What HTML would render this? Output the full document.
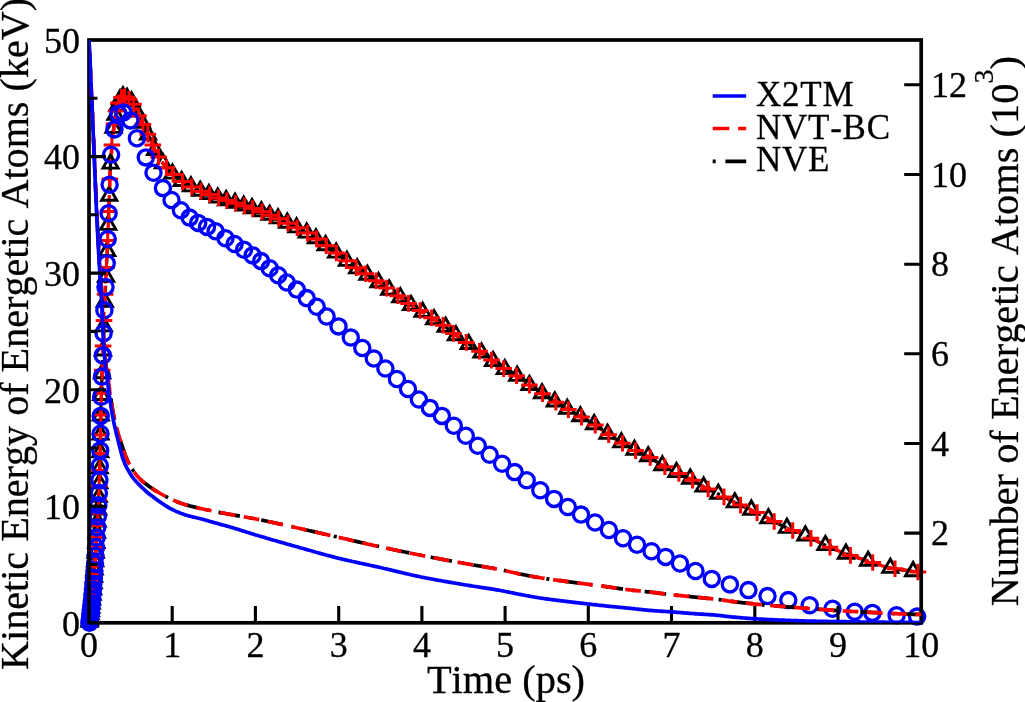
<!DOCTYPE html>
<html lang="en"><head><meta charset="utf-8"><title>Energetic atoms plot</title>
<style>html,body{margin:0;padding:0;background:#fff}svg{display:block}</style></head>
<body>
<svg width="1025" height="702" viewBox="0 0 1025 702">
<rect width="1025" height="702" fill="#fff"/>
<defs>
<circle id="c" r="7.60" fill="none" stroke="#0000ff" stroke-width="3.30"/>
<path id="t" d="M0 -8.78L-7.60 4.39L7.60 4.39Z" fill="none" stroke="#000" stroke-width="2.90" stroke-linejoin="miter"/>
<path id="p" d="M-8.30 0H8.30M0 -8.30V8.30" fill="none" stroke="#ff0000" stroke-width="3.00"/>
<clipPath id="clip"><rect x="89.0" y="40.0" width="832.2" height="582.8"/></clipPath>
</defs>
<g clip-path="url(#clip)" fill="none" stroke-width="3.3">
<path d="M89.5 622.8L89.6 621.8L89.7 620.8L89.9 619.9L90.0 618.9L90.1 617.9L90.2 616.9L90.3 615.9L90.4 614.9L90.5 614.0L90.6 613.0L90.8 612.0L90.9 611.0L91.0 610.0L91.1 609.1L91.2 608.1L91.3 607.1L91.4 606.1L91.5 605.1L91.6 604.1L91.7 603.2L91.8 602.2L91.9 601.2L92.0 600.2L92.1 599.2L92.2 598.2L92.3 597.3L92.3 596.3L92.4 595.3L92.5 594.3L92.6 593.3L92.7 592.3L92.8 591.4L92.9 590.4L93.0 589.4L93.0 588.4L93.1 587.4L93.2 586.4L93.3 585.4L93.4 584.5L93.5 583.5L93.5 582.5L93.6 581.5L93.7 580.5L93.8 579.5L93.8 578.6L93.9 577.6L94.0 576.6L94.1 575.6L94.2 574.6L94.2 573.6L94.3 572.6L94.4 571.7L94.5 570.7L94.5 569.7L94.6 568.7L94.7 567.7L94.7 566.7L94.8 565.7L94.9 564.8L95.0 563.8L95.0 562.8L95.1 561.8L95.2 560.8L95.2 559.8L95.3 558.8L95.4 557.9L95.4 556.9L95.5 555.9L95.6 554.9L95.6 553.9L95.7 552.9L95.8 551.9L95.8 551.0L95.9 550.0L95.9 549.0L96.0 548.0L96.1 547.0L96.1 546.0L96.2 545.0L96.3 544.1L96.3 543.1L96.4 542.1L96.4 541.1L96.5 540.1L96.6 539.1L96.6 538.1L96.7 537.2L96.7 536.2L96.8 535.2L96.8 534.2L96.9 533.2L96.9 532.2L97.0 531.2L97.1 530.2L97.1 529.3L97.2 528.3L97.2 527.3L97.3 526.3L97.3 525.3L97.4 524.3L97.4 523.3L97.5 522.4L97.5 521.4L97.6 520.4L97.6 519.4L97.7 518.4L97.7 517.4L97.8 516.4L97.8 515.4L97.9 514.5L97.9 513.5L98.0 512.5L98.0 511.5L98.1 510.5L98.1 509.5L98.2 508.5L98.2 507.6L98.3 506.6L98.3 505.6L98.4 504.6L98.4 503.6L98.5 502.6L98.5 501.6L98.5 500.6L98.6 499.7L98.6 498.7L98.7 497.7L98.7 496.7L98.8 495.7L98.8 494.7L98.8 493.7L98.9 492.7L98.9 491.8L99.0 490.8L99.0 489.8L99.0 488.8L99.1 487.8L99.1 486.8L99.2 485.8L99.2 484.9L99.2 483.9L99.3 482.9L99.3 481.9L99.3 480.9L99.4 479.9L99.4 478.9L99.4 477.9L99.5 477.0L99.5 476.0L99.5 475.0L99.6 474.0L99.6 473.0L99.6 472.0L99.7 471.0L99.7 470.0L99.7 469.1L99.8 468.1L99.8 467.1L99.8 466.1L99.9 465.1L99.9 464.1L99.9 463.1L99.9 462.1L100.0 461.1L100.0 460.2L100.0 459.2L100.1 458.2L100.1 457.2L100.1 456.2L100.1 455.2L100.2 454.2L100.2 453.2L100.2 452.3L100.2 451.3L100.2 450.3L100.3 449.3L100.3 448.3L100.3 447.3L100.3 446.3L100.3 445.3L100.3 444.4L100.3 443.4L100.4 442.4L100.4 441.4L100.4 440.4L100.4 439.4L100.4 438.4L100.4 437.4L100.4 436.5L100.5 435.5L100.5 434.5L100.5 433.5L100.5 432.5L100.5 431.5L100.5 430.5L100.6 429.5L100.6 428.6L100.6 427.6L100.6 426.6L100.6 425.6L100.6 424.6L100.6 423.6L100.6 422.6L100.7 421.6L100.7 420.6L100.7 419.7L100.7 418.7L100.7 417.7L100.7 416.7L100.8 415.7L100.8 414.7L100.8 413.7L100.8 412.7L100.8 411.8L100.8 410.8L100.9 409.8L100.9 408.8L100.9 407.8L100.9 406.8L101.0 405.8L101.0 404.8L101.0 403.9L101.1 402.9L101.1 401.9L101.1 400.9L101.1 399.9L101.2 398.9L101.2 397.9L101.2 396.9L101.3 396.0L101.3 395.0L101.3 394.0L101.4 393.0L101.4 392.0L101.4 391.0L101.5 390.0L101.5 389.0L101.5 388.1L101.6 387.1L101.6 386.1L101.6 385.1L101.7 384.1L101.7 383.1L101.7 382.1L101.8 381.1L101.8 380.2L101.9 379.2L101.9 378.2L101.9 377.2L102.0 376.2L102.0 375.2L102.0 374.2L102.1 373.2L102.1 372.3L102.2 371.3L102.2 370.3L102.2 369.3L102.3 368.3L102.3 367.3L102.3 366.3L102.4 365.3L102.4 364.4L102.5 363.4L102.5 362.4L102.5 361.4L102.6 360.4L102.6 359.4L102.7 358.4L102.7 357.4L102.7 356.5L102.8 355.5L102.8 354.5L102.9 353.5L102.9 352.5L102.9 351.5L103.0 350.5L103.0 349.5L103.0 348.6L103.1 347.6L103.1 346.6L103.2 345.6L103.2 344.6L103.2 343.6L103.3 342.6L103.3 341.7L103.3 340.7L103.4 339.7L103.4 338.7L103.4 337.7L103.5 336.7L103.5 335.7L103.5 334.7L103.6 333.8L103.6 332.8L103.6 331.8L103.7 330.8L103.7 329.8L103.7 328.8L103.8 327.8L103.8 326.8L103.8 325.9L103.9 324.9L103.9 323.9L103.9 322.9L104.0 321.9L104.0 320.9L104.1 319.9L104.1 318.9L104.1 318.0L104.2 317.0L104.2 316.0L104.2 315.0L104.3 314.0L104.3 313.0L104.4 312.0L104.4 311.0L104.4 310.1L104.5 309.1L104.5 308.1L104.5 307.1L104.6 306.1L104.6 305.1L104.7 304.1L104.7 303.1L104.8 302.2L104.8 301.2L104.8 300.2L104.9 299.2L104.9 298.2L105.0 297.2L105.0 296.2L105.1 295.2L105.1 294.3L105.2 293.3L105.2 292.3L105.2 291.3L105.3 290.3L105.3 289.3L105.4 288.3L105.4 287.4L105.5 286.4L105.5 285.4L105.6 284.4L105.6 283.4L105.7 282.4L105.7 281.4L105.8 280.4L105.8 279.5L105.9 278.5L105.9 277.5L106.0 276.5L106.0 275.5L106.1 274.5L106.1 273.5L106.2 272.5L106.2 271.6L106.3 270.6L106.3 269.6L106.4 268.6L106.4 267.6L106.5 266.6L106.5 265.6L106.6 264.7L106.6 263.7L106.7 262.7L106.7 261.7L106.8 260.7L106.8 259.7L106.9 258.7L106.9 257.7L107.0 256.8L107.0 255.8L107.1 254.8L107.1 253.8L107.2 252.8L107.2 251.8L107.3 250.8L107.3 249.9L107.3 248.9L107.4 247.9L107.4 246.9L107.5 245.9L107.5 244.9L107.5 243.9L107.6 242.9L107.6 242.0L107.6 241.0L107.7 240.0L107.7 239.0L107.8 238.0L107.8 237.0L107.8 236.0L107.9 235.0L107.9 234.1L107.9 233.1L108.0 232.1L108.0 231.1L108.1 230.1L108.1 229.1L108.1 228.1L108.2 227.1L108.2 226.2L108.2 225.2L108.3 224.2L108.3 223.2L108.3 222.2L108.4 221.2L108.4 220.2L108.4 219.2L108.5 218.3L108.5 217.3L108.5 216.3L108.6 215.3L108.6 214.3L108.6 213.3L108.7 212.3L108.7 211.3L108.7 210.4L108.8 209.4L108.8 208.4L108.8 207.4L108.9 206.4L108.9 205.4L108.9 204.4L109.0 203.4L109.0 202.5L109.0 201.5L109.1 200.5L109.1 199.5L109.1 198.5L109.2 197.5L109.2 196.5L109.3 195.5L109.3 194.6L109.3 193.6L109.4 192.6L109.4 191.6L109.4 190.6L109.5 189.6L109.5 188.6L109.5 187.6L109.6 186.7L109.6 185.7L109.7 184.7L109.7 183.7L109.7 182.7L109.8 181.7L109.8 180.7L109.8 179.7L109.9 178.8L109.9 177.8L110.0 176.8L110.0 175.8L110.0 174.8L110.1 173.8L110.1 172.8L110.2 171.8L110.2 170.9L110.2 169.9L110.3 168.9L110.3 167.9L110.4 166.9L110.4 165.9L110.5 164.9L110.5 164.0L110.6 163.0L110.6 162.0L110.7 161.0L110.7 160.0L110.8 159.0L110.9 158.0L110.9 157.1L111.0 156.1L111.1 155.1L111.1 154.1L111.2 153.1L111.3 152.1L111.3 151.1L111.4 150.2L111.5 149.2L111.6 148.2L111.7 147.2L111.8 146.2L111.9 145.2L111.9 144.2L112.0 143.3L112.1 142.3L112.2 141.3L112.3 140.3L112.4 139.3L112.5 138.3L112.6 137.4L112.7 136.4L112.8 135.4L113.0 134.4L113.1 133.4L113.2 132.5L113.3 131.5L113.4 130.5L113.5 129.5L113.6 128.5L113.8 127.5L113.9 126.6L114.0 125.6L114.1 124.6L114.3 123.6L114.4 122.6L114.5 121.7L114.7 120.7L114.8 119.7L115.0 118.7L115.1 117.7L115.3 116.8L115.5 115.8L115.7 114.8L115.8 113.9L116.0 112.9L116.2 111.9L116.4 110.9L116.6 110.0L116.8 109.0L117.1 108.0L117.3 107.0L117.6 106.1L117.9 105.1L118.2 104.2L118.5 103.3L118.8 102.4L119.2 101.5L119.7 100.5L120.2 99.4L120.8 98.4L121.4 97.5L122.1 96.9L122.8 96.5L123.5 96.6L124.4 96.8L125.4 97.2L126.4 97.6L127.3 98.1L128.2 98.6L129.0 99.2L129.8 99.8L130.5 100.5L131.2 101.2L131.9 102.0L132.5 102.7L133.0 103.5L133.4 104.4L133.9 105.2L134.3 106.1L134.7 107.0L135.1 108.0L135.4 108.9L135.8 109.9L136.2 110.8L136.5 111.7L136.9 112.6L137.4 113.5L137.8 114.4L138.2 115.3L138.7 116.2L139.1 117.1L139.5 118.0L140.0 118.9L140.4 119.7L140.9 120.6L141.3 121.5L141.8 122.4L142.2 123.3L142.7 124.1L143.1 125.0L143.6 125.9L144.0 126.8L144.4 127.7L144.9 128.6L145.3 129.4L145.8 130.3L146.2 131.2L146.7 132.1L147.1 133.0L147.6 133.8L148.0 134.7L148.5 135.6L148.9 136.5L149.3 137.4L149.8 138.3L150.2 139.2L150.6 140.0L151.1 140.9L151.5 141.8L151.9 142.7L152.3 143.7L152.7 144.6L153.0 145.5L153.4 146.4L153.8 147.3L154.2 148.2L154.6 149.1L155.0 150.1L155.4 151.0L155.8 151.9L156.2 152.7L156.6 153.6L157.1 154.5L157.6 155.3L158.1 156.2L158.6 157.0L159.1 157.9L159.6 158.7L160.2 159.5L160.7 160.4L161.3 161.2L161.9 162.0L162.5 162.8L163.1 163.6L163.7 164.4L164.3 165.1L164.9 165.9L165.6 166.6L166.2 167.4L166.8 168.1L167.5 168.8L168.2 169.6L168.9 170.3L169.6 171.0L170.3 171.7L171.0 172.4L171.7 173.1L172.5 173.7L173.2 174.4L173.9 175.0L174.7 175.7L175.4 176.3L176.2 176.9L177.0 177.6L177.7 178.2L178.5 178.8L179.3 179.4L180.1 180.0L180.9 180.6L181.7 181.1L182.5 181.7L183.4 182.2L184.2 182.7L185.0 183.3L185.9 183.8L186.7 184.3L187.6 184.7L188.5 185.2L189.3 185.7L190.2 186.1L191.1 186.6L192.0 187.0L192.9 187.5L193.8 187.9L194.6 188.3L195.5 188.8L196.4 189.2L197.3 189.6L198.2 190.0L199.1 190.4L200.0 190.8L201.0 191.2L201.9 191.5L202.8 191.9L203.7 192.3L204.6 192.6L205.6 193.0L206.5 193.3L207.4 193.6L208.3 194.0L209.3 194.3L210.2 194.7L211.1 195.0L212.0 195.4L213.0 195.7L213.9 196.1L214.8 196.5L215.7 196.8L216.6 197.2L217.6 197.5L218.5 197.9L219.4 198.2L220.3 198.5L221.3 198.9L222.2 199.1L223.2 199.4L224.1 199.7L225.1 200.0L226.0 200.2L227.0 200.5L227.9 200.8L228.9 201.1L229.8 201.4L230.8 201.7L231.7 201.9L232.6 202.2L233.6 202.5L234.5 202.8L235.5 203.1L236.4 203.4L237.4 203.7L238.3 204.0L239.2 204.3L240.2 204.6L241.1 204.9L242.1 205.2L243.0 205.5L244.0 205.8L244.9 206.1L245.9 206.4L246.8 206.7L247.7 206.9L248.7 207.2L249.6 207.5L250.6 207.8L251.5 208.1L252.5 208.4L253.4 208.7L254.3 209.0L255.3 209.3L256.2 209.6L257.2 210.0L258.1 210.3L259.0 210.6L259.9 211.0L260.9 211.3L261.8 211.7L262.7 212.1L263.6 212.4L264.5 212.8L265.4 213.2L266.4 213.5L267.3 213.9L268.2 214.3L269.1 214.6L270.0 215.0L270.9 215.4L271.8 215.8L272.8 216.2L273.7 216.6L274.6 217.0L275.5 217.4L276.4 217.7L277.3 218.1L278.2 218.5L279.1 218.9L280.0 219.3L280.9 219.8L281.8 220.2L282.7 220.6L283.6 221.0L284.5 221.4L285.4 221.9L286.2 222.3L287.1 222.7L288.0 223.2L288.9 223.6L289.8 224.1L290.6 224.6L291.5 225.0L292.4 225.5L293.3 225.9L294.2 226.3L295.1 226.8L296.0 227.2L296.8 227.6L297.7 228.1L298.6 228.5L299.5 228.9L300.4 229.4L301.3 229.8L302.1 230.3L303.0 230.7L303.9 231.2L304.8 231.7L305.6 232.1L306.5 232.6L307.4 233.1L308.2 233.6L309.1 234.1L309.9 234.6L310.8 235.1L311.6 235.6L312.5 236.1L313.3 236.7L314.1 237.2L314.9 237.7L315.7 238.3L316.6 238.9L317.4 239.4L318.2 240.0L319.0 240.6L319.8 241.1L320.6 241.7L321.4 242.3L322.2 242.9L323.0 243.4L323.8 244.0L324.6 244.6L325.4 245.1L326.3 245.7L327.1 246.3L327.9 246.8L328.7 247.4L329.5 248.0L330.3 248.6L331.1 249.1L331.9 249.7L332.7 250.3L333.5 250.9L334.3 251.4L335.1 252.0L335.9 252.6L336.7 253.2L337.5 253.8L338.3 254.4L339.1 255.0L339.8 255.6L340.6 256.2L341.4 256.8L342.2 257.4L343.0 258.0L343.7 258.6L344.5 259.2L345.3 259.8L346.1 260.4L346.9 261.0L347.7 261.6L348.5 262.2L349.3 262.8L350.1 263.4L350.9 264.0L351.6 264.5L352.4 265.1L353.2 265.7L354.0 266.3L354.8 266.9L355.7 267.4L356.5 268.0L357.3 268.6L358.1 269.1L358.9 269.6L359.8 270.2L360.6 270.7L361.4 271.2L362.3 271.7L363.1 272.2L364.0 272.8L364.8 273.3L365.7 273.8L366.5 274.3L367.3 274.9L368.2 275.4L369.0 275.9L369.8 276.5L370.6 277.0L371.5 277.6L372.3 278.1L373.1 278.7L373.9 279.2L374.7 279.8L375.6 280.3L376.4 280.9L377.2 281.4L378.0 282.0L378.8 282.5L379.6 283.1L380.5 283.7L381.3 284.2L382.1 284.8L382.9 285.4L383.7 285.9L384.5 286.5L385.3 287.1L386.1 287.6L386.9 288.2L387.7 288.8L388.5 289.3L389.3 289.9L390.2 290.5L391.0 291.0L391.8 291.6L392.6 292.1L393.4 292.7L394.2 293.2L395.1 293.8L395.9 294.4L396.7 294.9L397.5 295.5L398.3 296.0L399.1 296.6L399.9 297.2L400.8 297.7L401.6 298.3L402.4 298.9L403.2 299.5L404.0 300.1L404.7 300.6L405.5 301.2L406.3 301.8L407.1 302.4L407.9 303.0L408.7 303.6L409.5 304.1L410.4 304.7L411.2 305.2L412.0 305.8L412.9 306.3L413.7 306.8L414.5 307.3L415.4 307.8L416.3 308.3L417.1 308.8L418.0 309.3L418.8 309.8L419.7 310.3L420.5 310.8L421.4 311.3L422.2 311.8L423.1 312.3L423.9 312.8L424.7 313.3L425.6 313.9L426.4 314.4L427.2 314.9L428.1 315.5L428.9 316.0L429.7 316.5L430.6 317.1L431.4 317.6L432.2 318.2L433.0 318.7L433.9 319.2L434.7 319.8L435.5 320.3L436.4 320.9L437.2 321.4L438.0 321.9L438.9 322.5L439.7 323.0L440.5 323.5L441.4 324.1L442.2 324.6L443.0 325.2L443.8 325.7L444.6 326.3L445.4 326.9L446.2 327.5L447.0 328.1L447.8 328.7L448.5 329.3L449.3 329.9L450.0 330.6L450.8 331.2L451.5 331.9L452.3 332.5L453.1 333.1L453.8 333.8L454.6 334.4L455.4 335.0L456.2 335.6L456.9 336.2L457.7 336.7L458.6 337.3L459.4 337.9L460.2 338.4L461.0 339.0L461.8 339.5L462.6 340.1L463.5 340.6L464.3 341.2L465.1 341.7L465.9 342.3L466.8 342.8L467.6 343.4L468.4 343.9L469.2 344.5L470.1 345.0L470.9 345.6L471.7 346.1L472.5 346.7L473.3 347.2L474.2 347.7L475.0 348.3L475.8 348.8L476.6 349.4L477.5 349.9L478.3 350.5L479.1 351.0L479.9 351.6L480.7 352.2L481.5 352.7L482.3 353.3L483.1 353.9L483.9 354.5L484.7 355.0L485.5 355.6L486.3 356.2L487.1 356.8L487.9 357.4L488.7 358.0L489.5 358.6L490.3 359.2L491.1 359.8L491.9 360.3L492.7 360.9L493.5 361.5L494.3 362.1L495.1 362.6L495.9 363.2L496.7 363.8L497.5 364.4L498.3 364.9L499.1 365.5L500.0 366.1L500.8 366.6L501.6 367.2L502.4 367.7L503.2 368.2L504.1 368.8L504.9 369.3L505.8 369.8L506.6 370.3L507.5 370.7L508.4 371.2L509.2 371.7L510.1 372.1L511.0 372.6L511.9 373.0L512.8 373.5L513.6 374.0L514.5 374.4L515.4 374.9L516.2 375.4L517.0 375.9L517.9 376.5L518.7 377.0L519.5 377.6L520.3 378.2L521.1 378.7L521.9 379.3L522.7 379.9L523.4 380.5L524.2 381.1L525.0 381.8L525.8 382.4L526.6 383.0L527.4 383.6L528.2 384.1L529.0 384.7L529.8 385.3L530.6 385.9L531.4 386.4L532.2 387.0L533.0 387.5L533.9 388.1L534.7 388.6L535.5 389.2L536.3 389.7L537.2 390.3L538.0 390.8L538.8 391.3L539.6 391.9L540.5 392.4L541.3 392.9L542.1 393.5L543.0 394.0L543.8 394.6L544.6 395.1L545.4 395.6L546.3 396.2L547.1 396.7L547.9 397.3L548.8 397.8L549.6 398.3L550.4 398.9L551.3 399.4L552.1 399.9L552.9 400.4L553.8 401.0L554.6 401.5L555.5 402.0L556.3 402.5L557.1 403.0L558.0 403.5L558.8 404.0L559.7 404.5L560.5 405.0L561.4 405.5L562.3 406.0L563.1 406.5L564.0 407.0L564.8 407.5L565.7 408.0L566.5 408.5L567.4 409.0L568.2 409.5L569.1 410.0L569.9 410.5L570.8 411.0L571.7 411.5L572.5 412.0L573.4 412.5L574.2 412.9L575.1 413.4L576.0 413.9L576.8 414.4L577.7 414.9L578.5 415.4L579.4 415.9L580.2 416.4L581.1 416.9L582.0 417.3L582.8 417.8L583.7 418.3L584.6 418.8L585.4 419.3L586.3 419.7L587.2 420.2L588.0 420.7L588.9 421.2L589.7 421.7L590.6 422.2L591.5 422.7L592.3 423.2L593.1 423.7L594.0 424.2L594.8 424.8L595.6 425.3L596.4 425.9L597.2 426.4L598.0 427.0L598.8 427.6L599.6 428.2L600.4 428.8L601.2 429.4L602.0 430.0L602.8 430.6L603.6 431.2L604.4 431.8L605.1 432.4L606.0 432.9L606.8 433.5L607.6 434.1L608.4 434.6L609.2 435.1L610.1 435.7L610.9 436.2L611.7 436.7L612.6 437.2L613.4 437.8L614.3 438.3L615.1 438.8L615.9 439.3L616.8 439.8L617.6 440.3L618.5 440.8L619.3 441.3L620.2 441.8L621.0 442.3L621.9 442.8L622.7 443.4L623.6 443.9L624.4 444.4L625.3 444.9L626.1 445.4L627.0 445.9L627.8 446.4L628.7 446.9L629.6 447.4L630.4 447.9L631.3 448.3L632.1 448.8L633.0 449.3L633.9 449.7L634.8 450.2L635.6 450.6L636.5 451.0L637.4 451.5L638.3 451.9L639.2 452.3L640.2 452.7L641.1 453.1L642.0 453.5L642.9 453.9L643.8 454.3L644.7 454.7L645.6 455.1L646.5 455.5L647.3 456.0L648.2 456.4L649.1 456.9L649.9 457.4L650.8 457.9L651.6 458.4L652.4 459.0L653.3 459.5L654.1 460.1L654.9 460.6L655.7 461.2L656.5 461.8L657.3 462.3L658.2 462.9L659.0 463.4L659.8 463.9L660.7 464.5L661.5 465.0L662.4 465.4L663.2 465.9L664.1 466.4L665.0 466.8L665.9 467.3L666.8 467.7L667.7 468.1L668.5 468.5L669.4 469.0L670.3 469.4L671.2 469.8L672.1 470.2L673.0 470.6L673.9 471.0L674.8 471.5L675.7 471.9L676.6 472.3L677.5 472.7L678.4 473.1L679.3 473.6L680.2 474.0L681.1 474.4L682.0 474.8L682.9 475.2L683.8 475.6L684.7 476.1L685.6 476.5L686.5 476.9L687.4 477.4L688.2 477.8L689.1 478.2L690.0 478.7L690.9 479.2L691.7 479.6L692.6 480.1L693.4 480.6L694.3 481.1L695.1 481.6L696.0 482.2L696.8 482.7L697.7 483.2L698.5 483.7L699.3 484.2L700.2 484.8L701.0 485.3L701.9 485.8L702.8 486.2L703.6 486.7L704.5 487.2L705.4 487.6L706.2 488.1L707.1 488.5L708.0 488.9L708.9 489.4L709.8 489.8L710.7 490.2L711.6 490.7L712.5 491.1L713.4 491.5L714.3 491.9L715.2 492.4L716.0 492.8L716.9 493.2L717.8 493.7L718.7 494.1L719.6 494.6L720.5 495.0L721.3 495.5L722.2 495.9L723.1 496.4L723.9 496.9L724.8 497.3L725.7 497.8L726.6 498.3L727.4 498.7L728.3 499.2L729.2 499.7L730.1 500.1L730.9 500.6L731.8 501.0L732.7 501.5L733.6 501.9L734.5 502.3L735.4 502.8L736.2 503.2L737.1 503.6L738.0 504.0L738.9 504.4L739.9 504.8L740.8 505.2L741.7 505.6L742.6 506.0L743.5 506.4L744.4 506.7L745.3 507.1L746.2 507.5L747.1 507.9L748.0 508.3L748.9 508.7L749.8 509.1L750.7 509.5L751.6 510.0L752.5 510.4L753.4 510.8L754.3 511.2L755.2 511.7L756.1 512.1L756.9 512.5L757.8 513.0L758.7 513.4L759.6 513.9L760.5 514.3L761.4 514.8L762.2 515.2L763.1 515.7L764.0 516.1L764.9 516.6L765.7 517.0L766.6 517.5L767.5 517.9L768.4 518.4L769.3 518.8L770.1 519.3L771.0 519.8L771.9 520.2L772.8 520.7L773.6 521.2L774.5 521.6L775.4 522.1L776.2 522.6L777.1 523.0L778.0 523.5L778.9 524.0L779.7 524.4L780.6 524.9L781.5 525.3L782.4 525.8L783.2 526.2L784.1 526.7L785.0 527.1L785.9 527.5L786.8 528.0L787.7 528.4L788.6 528.8L789.5 529.2L790.4 529.5L791.3 529.9L792.2 530.3L793.2 530.7L794.1 531.0L795.0 531.4L795.9 531.7L796.8 532.1L797.8 532.5L798.7 532.8L799.6 533.2L800.5 533.6L801.4 533.9L802.4 534.3L803.3 534.7L804.2 535.1L805.1 535.5L806.0 535.9L806.9 536.3L807.8 536.7L808.7 537.1L809.6 537.5L810.5 538.0L811.3 538.4L812.2 538.8L813.1 539.3L814.0 539.7L814.9 540.1L815.8 540.6L816.7 541.0L817.5 541.5L818.4 541.9L819.3 542.3L820.2 542.8L821.1 543.2L822.0 543.6L822.9 544.0L823.8 544.5L824.7 544.9L825.6 545.3L826.5 545.7L827.4 546.1L828.3 546.5L829.2 546.9L830.1 547.3L831.0 547.7L831.9 548.1L832.8 548.5L833.7 548.9L834.6 549.3L835.5 549.7L836.4 550.0L837.4 550.4L838.3 550.8L839.2 551.2L840.1 551.6L841.0 551.9L841.9 552.3L842.9 552.6L843.8 553.0L844.7 553.4L845.6 553.7L846.5 554.0L847.5 554.4L848.4 554.7L849.3 555.0L850.3 555.3L851.2 555.7L852.1 556.0L853.1 556.3L854.0 556.6L855.0 556.9L855.9 557.2L856.8 557.5L857.8 557.8L858.7 558.1L859.7 558.4L860.6 558.7L861.6 559.0L862.5 559.2L863.5 559.5L864.4 559.8L865.3 560.1L866.3 560.4L867.2 560.7L868.2 561.0L869.1 561.3L870.0 561.6L871.0 562.0L871.9 562.3L872.9 562.6L873.8 562.9L874.7 563.3L875.7 563.6L876.6 563.9L877.5 564.3L878.5 564.6L879.4 564.9L880.4 565.2L881.3 565.5L882.2 565.9L883.2 566.1L884.1 566.4L885.1 566.7L886.0 567.0L887.0 567.2L887.9 567.5L888.9 567.7L889.8 567.9L890.8 568.1L891.8 568.3L892.7 568.5L893.7 568.6L894.7 568.8L895.6 568.9L896.6 569.1L897.6 569.2L898.6 569.4L899.5 569.5L900.5 569.6L901.5 569.8L902.5 569.9L903.5 570.0L904.5 570.1L905.4 570.3L906.4 570.4L907.4 570.5L908.4 570.6L909.4 570.8L910.4 570.9L911.3 571.0L912.3 571.2L913.3 571.3L914.3 571.5L915.2 571.6L916.2 571.8L917.2 571.9L918.2 572.1L919.1 572.2L920.1 572.4L921.1 572.6L922.1 572.7L923.0 572.9L924.0 573.0L925.0 573.2" stroke="#000" stroke-dasharray="3.1 9.3 21.7 9.3"/>
<path d="M89.5 622.8L89.6 621.8L89.7 620.8L89.9 619.9L90.0 618.9L90.1 617.9L90.2 616.9L90.3 615.9L90.4 614.9L90.5 614.0L90.6 613.0L90.8 612.0L90.9 611.0L91.0 610.0L91.1 609.1L91.2 608.1L91.3 607.1L91.4 606.1L91.5 605.1L91.6 604.1L91.7 603.2L91.8 602.2L91.9 601.2L92.0 600.2L92.1 599.2L92.2 598.2L92.3 597.3L92.3 596.3L92.4 595.3L92.5 594.3L92.6 593.3L92.7 592.3L92.8 591.4L92.9 590.4L93.0 589.4L93.0 588.4L93.1 587.4L93.2 586.4L93.3 585.4L93.4 584.5L93.5 583.5L93.5 582.5L93.6 581.5L93.7 580.5L93.8 579.5L93.8 578.6L93.9 577.6L94.0 576.6L94.1 575.6L94.2 574.6L94.2 573.6L94.3 572.6L94.4 571.7L94.5 570.7L94.5 569.7L94.6 568.7L94.7 567.7L94.7 566.7L94.8 565.7L94.9 564.8L95.0 563.8L95.0 562.8L95.1 561.8L95.2 560.8L95.2 559.8L95.3 558.8L95.4 557.9L95.4 556.9L95.5 555.9L95.6 554.9L95.6 553.9L95.7 552.9L95.8 551.9L95.8 551.0L95.9 550.0L95.9 549.0L96.0 548.0L96.1 547.0L96.1 546.0L96.2 545.0L96.3 544.1L96.3 543.1L96.4 542.1L96.4 541.1L96.5 540.1L96.6 539.1L96.6 538.1L96.7 537.2L96.7 536.2L96.8 535.2L96.8 534.2L96.9 533.2L96.9 532.2L97.0 531.2L97.1 530.2L97.1 529.3L97.2 528.3L97.2 527.3L97.3 526.3L97.3 525.3L97.4 524.3L97.4 523.3L97.5 522.4L97.5 521.4L97.6 520.4L97.6 519.4L97.7 518.4L97.7 517.4L97.8 516.4L97.8 515.4L97.9 514.5L97.9 513.5L98.0 512.5L98.0 511.5L98.1 510.5L98.1 509.5L98.2 508.5L98.2 507.6L98.3 506.6L98.3 505.6L98.4 504.6L98.4 503.6L98.5 502.6L98.5 501.6L98.5 500.6L98.6 499.7L98.6 498.7L98.7 497.7L98.7 496.7L98.8 495.7L98.8 494.7L98.8 493.7L98.9 492.7L98.9 491.8L99.0 490.8L99.0 489.8L99.0 488.8L99.1 487.8L99.1 486.8L99.2 485.8L99.2 484.9L99.2 483.9L99.3 482.9L99.3 481.9L99.3 480.9L99.4 479.9L99.4 478.9L99.4 477.9L99.5 477.0L99.5 476.0L99.5 475.0L99.6 474.0L99.6 473.0L99.6 472.0L99.7 471.0L99.7 470.0L99.7 469.1L99.8 468.1L99.8 467.1L99.8 466.1L99.9 465.1L99.9 464.1L99.9 463.1L99.9 462.1L100.0 461.1L100.0 460.2L100.0 459.2L100.1 458.2L100.1 457.2L100.1 456.2L100.1 455.2L100.2 454.2L100.2 453.2L100.2 452.3L100.2 451.3L100.2 450.3L100.3 449.3L100.3 448.3L100.3 447.3L100.3 446.3L100.3 445.3L100.3 444.4L100.3 443.4L100.4 442.4L100.4 441.4L100.4 440.4L100.4 439.4L100.4 438.4L100.4 437.4L100.4 436.5L100.5 435.5L100.5 434.5L100.5 433.5L100.5 432.5L100.5 431.5L100.5 430.5L100.6 429.5L100.6 428.6L100.6 427.6L100.6 426.6L100.6 425.6L100.6 424.6L100.6 423.6L100.6 422.6L100.7 421.6L100.7 420.6L100.7 419.7L100.7 418.7L100.7 417.7L100.7 416.7L100.8 415.7L100.8 414.7L100.8 413.7L100.8 412.7L100.8 411.8L100.8 410.8L100.9 409.8L100.9 408.8L100.9 407.8L100.9 406.8L101.0 405.8L101.0 404.8L101.0 403.9L101.1 402.9L101.1 401.9L101.1 400.9L101.1 399.9L101.2 398.9L101.2 397.9L101.2 396.9L101.3 396.0L101.3 395.0L101.3 394.0L101.4 393.0L101.4 392.0L101.4 391.0L101.5 390.0L101.5 389.0L101.5 388.1L101.6 387.1L101.6 386.1L101.6 385.1L101.7 384.1L101.7 383.1L101.7 382.1L101.8 381.1L101.8 380.2L101.9 379.2L101.9 378.2L101.9 377.2L102.0 376.2L102.0 375.2L102.0 374.2L102.1 373.2L102.1 372.3L102.2 371.3L102.2 370.3L102.2 369.3L102.3 368.3L102.3 367.3L102.3 366.3L102.4 365.3L102.4 364.4L102.5 363.4L102.5 362.4L102.5 361.4L102.6 360.4L102.6 359.4L102.7 358.4L102.7 357.4L102.7 356.5L102.8 355.5L102.8 354.5L102.9 353.5L102.9 352.5L102.9 351.5L103.0 350.5L103.0 349.5L103.0 348.6L103.1 347.6L103.1 346.6L103.2 345.6L103.2 344.6L103.2 343.6L103.3 342.6L103.3 341.7L103.3 340.7L103.4 339.7L103.4 338.7L103.4 337.7L103.5 336.7L103.5 335.7L103.5 334.7L103.6 333.8L103.6 332.8L103.6 331.8L103.7 330.8L103.7 329.8L103.7 328.8L103.8 327.8L103.8 326.8L103.8 325.9L103.9 324.9L103.9 323.9L103.9 322.9L104.0 321.9L104.0 320.9L104.1 319.9L104.1 318.9L104.1 318.0L104.2 317.0L104.2 316.0L104.2 315.0L104.3 314.0L104.3 313.0L104.4 312.0L104.4 311.0L104.4 310.1L104.5 309.1L104.5 308.1L104.5 307.1L104.6 306.1L104.6 305.1L104.7 304.1L104.7 303.1L104.8 302.2L104.8 301.2L104.8 300.2L104.9 299.2L104.9 298.2L105.0 297.2L105.0 296.2L105.1 295.2L105.1 294.3L105.2 293.3L105.2 292.3L105.2 291.3L105.3 290.3L105.3 289.3L105.4 288.3L105.4 287.4L105.5 286.4L105.5 285.4L105.6 284.4L105.6 283.4L105.7 282.4L105.7 281.4L105.8 280.4L105.8 279.5L105.9 278.5L105.9 277.5L106.0 276.5L106.0 275.5L106.1 274.5L106.1 273.5L106.2 272.5L106.2 271.6L106.3 270.6L106.3 269.6L106.4 268.6L106.4 267.6L106.5 266.6L106.5 265.6L106.6 264.7L106.6 263.7L106.7 262.7L106.7 261.7L106.8 260.7L106.8 259.7L106.9 258.7L106.9 257.7L107.0 256.8L107.0 255.8L107.1 254.8L107.1 253.8L107.2 252.8L107.2 251.8L107.3 250.8L107.3 249.9L107.3 248.9L107.4 247.9L107.4 246.9L107.5 245.9L107.5 244.9L107.5 243.9L107.6 242.9L107.6 242.0L107.6 241.0L107.7 240.0L107.7 239.0L107.8 238.0L107.8 237.0L107.8 236.0L107.9 235.0L107.9 234.1L107.9 233.1L108.0 232.1L108.0 231.1L108.1 230.1L108.1 229.1L108.1 228.1L108.2 227.1L108.2 226.2L108.2 225.2L108.3 224.2L108.3 223.2L108.3 222.2L108.4 221.2L108.4 220.2L108.4 219.2L108.5 218.3L108.5 217.3L108.5 216.3L108.6 215.3L108.6 214.3L108.6 213.3L108.7 212.3L108.7 211.3L108.7 210.4L108.8 209.4L108.8 208.4L108.8 207.4L108.9 206.4L108.9 205.4L108.9 204.4L109.0 203.4L109.0 202.5L109.0 201.5L109.1 200.5L109.1 199.5L109.1 198.5L109.2 197.5L109.2 196.5L109.3 195.5L109.3 194.6L109.3 193.6L109.4 192.6L109.4 191.6L109.4 190.6L109.5 189.6L109.5 188.6L109.5 187.6L109.6 186.7L109.6 185.7L109.7 184.7L109.7 183.7L109.7 182.7L109.8 181.7L109.8 180.7L109.8 179.7L109.9 178.8L109.9 177.8L110.0 176.8L110.0 175.8L110.0 174.8L110.1 173.8L110.1 172.8L110.2 171.8L110.2 170.9L110.2 169.9L110.3 168.9L110.3 167.9L110.4 166.9L110.4 165.9L110.5 164.9L110.5 164.0L110.6 163.0L110.6 162.0L110.7 161.0L110.7 160.0L110.8 159.0L110.9 158.0L110.9 157.1L111.0 156.1L111.1 155.1L111.1 154.1L111.2 153.1L111.3 152.1L111.3 151.1L111.4 150.2L111.5 149.2L111.6 148.2L111.7 147.2L111.8 146.2L111.9 145.2L111.9 144.2L112.0 143.3L112.1 142.3L112.2 141.3L112.3 140.3L112.4 139.3L112.5 138.3L112.6 137.4L112.7 136.4L112.8 135.4L113.0 134.4L113.1 133.4L113.2 132.5L113.3 131.5L113.4 130.5L113.5 129.5L113.6 128.5L113.8 127.5L113.9 126.6L114.0 125.6L114.1 124.6L114.3 123.6L114.4 122.6L114.5 121.7L114.7 120.7L114.8 119.7L115.0 118.7L115.1 117.7L115.3 116.8L115.5 115.8L115.7 114.8L115.8 113.9L116.0 112.9L116.2 111.9L116.4 110.9L116.6 110.0L116.8 109.0L117.1 108.0L117.3 107.0L117.6 106.1L117.9 105.1L118.2 104.2L118.5 103.3L118.8 102.4L119.2 101.5L119.7 100.5L120.2 99.4L120.8 98.4L121.4 97.5L122.1 96.9L122.8 96.5L123.5 96.6L124.4 96.8L125.4 97.2L126.4 97.6L127.3 98.1L128.2 98.6L129.0 99.2L129.8 99.8L130.5 100.5L131.2 101.2L131.9 102.0L132.5 102.7L133.0 103.5L133.4 104.4L133.9 105.2L134.3 106.1L134.7 107.0L135.1 108.0L135.4 108.9L135.8 109.9L136.2 110.8L136.5 111.7L136.9 112.6L137.4 113.5L137.8 114.4L138.2 115.3L138.7 116.2L139.1 117.1L139.5 118.0L140.0 118.9L140.4 119.7L140.9 120.6L141.3 121.5L141.8 122.4L142.2 123.3L142.7 124.1L143.1 125.0L143.6 125.9L144.0 126.8L144.4 127.7L144.9 128.6L145.3 129.4L145.8 130.3L146.2 131.2L146.7 132.1L147.1 133.0L147.6 133.8L148.0 134.7L148.5 135.6L148.9 136.5L149.3 137.4L149.8 138.3L150.2 139.2L150.6 140.0L151.1 140.9L151.5 141.8L151.9 142.7L152.3 143.7L152.7 144.6L153.0 145.5L153.4 146.4L153.8 147.3L154.2 148.2L154.6 149.1L155.0 150.1L155.4 151.0L155.8 151.9L156.2 152.7L156.6 153.6L157.1 154.5L157.6 155.3L158.1 156.2L158.6 157.0L159.1 157.9L159.6 158.7L160.2 159.5L160.7 160.4L161.3 161.2L161.9 162.0L162.5 162.8L163.1 163.6L163.7 164.4L164.3 165.1L164.9 165.9L165.6 166.6L166.2 167.4L166.8 168.1L167.5 168.8L168.2 169.6L168.9 170.3L169.6 171.0L170.3 171.7L171.0 172.4L171.7 173.1L172.5 173.7L173.2 174.4L173.9 175.0L174.7 175.7L175.4 176.3L176.2 176.9L177.0 177.6L177.7 178.2L178.5 178.8L179.3 179.4L180.1 180.0L180.9 180.6L181.7 181.1L182.5 181.7L183.4 182.2L184.2 182.7L185.0 183.3L185.9 183.8L186.7 184.3L187.6 184.7L188.5 185.2L189.3 185.7L190.2 186.1L191.1 186.6L192.0 187.0L192.9 187.5L193.8 187.9L194.6 188.3L195.5 188.8L196.4 189.2L197.3 189.6L198.2 190.0L199.1 190.4L200.0 190.8L201.0 191.2L201.9 191.5L202.8 191.9L203.7 192.3L204.6 192.6L205.6 193.0L206.5 193.3L207.4 193.6L208.3 194.0L209.3 194.3L210.2 194.7L211.1 195.0L212.0 195.4L213.0 195.7L213.9 196.1L214.8 196.5L215.7 196.8L216.6 197.2L217.6 197.5L218.5 197.9L219.4 198.2L220.3 198.5L221.3 198.9L222.2 199.1L223.2 199.4L224.1 199.7L225.1 200.0L226.0 200.2L227.0 200.5L227.9 200.8L228.9 201.1L229.8 201.4L230.8 201.7L231.7 201.9L232.6 202.2L233.6 202.5L234.5 202.8L235.5 203.1L236.4 203.4L237.4 203.7L238.3 204.0L239.2 204.3L240.2 204.6L241.1 204.9L242.1 205.2L243.0 205.5L244.0 205.8L244.9 206.1L245.9 206.4L246.8 206.7L247.7 206.9L248.7 207.2L249.6 207.5L250.6 207.8L251.5 208.1L252.5 208.4L253.4 208.7L254.3 209.0L255.3 209.3L256.2 209.6L257.2 210.0L258.1 210.3L259.0 210.6L259.9 211.0L260.9 211.3L261.8 211.7L262.7 212.1L263.6 212.4L264.5 212.8L265.4 213.2L266.4 213.5L267.3 213.9L268.2 214.3L269.1 214.6L270.0 215.0L270.9 215.4L271.8 215.8L272.8 216.2L273.7 216.6L274.6 217.0L275.5 217.4L276.4 217.7L277.3 218.1L278.2 218.5L279.1 218.9L280.0 219.3L280.9 219.8L281.8 220.2L282.7 220.6L283.6 221.0L284.5 221.4L285.4 221.9L286.2 222.3L287.1 222.7L288.0 223.2L288.9 223.6L289.8 224.1L290.6 224.6L291.5 225.0L292.4 225.5L293.3 225.9L294.2 226.3L295.1 226.8L296.0 227.2L296.8 227.6L297.7 228.1L298.6 228.5L299.5 228.9L300.4 229.4L301.3 229.8L302.1 230.3L303.0 230.7L303.9 231.2L304.8 231.7L305.6 232.1L306.5 232.6L307.4 233.1L308.2 233.6L309.1 234.1L309.9 234.6L310.8 235.1L311.6 235.6L312.5 236.1L313.3 236.7L314.1 237.2L314.9 237.7L315.7 238.3L316.6 238.9L317.4 239.4L318.2 240.0L319.0 240.6L319.8 241.1L320.6 241.7L321.4 242.3L322.2 242.9L323.0 243.4L323.8 244.0L324.6 244.6L325.4 245.1L326.3 245.7L327.1 246.3L327.9 246.8L328.7 247.4L329.5 248.0L330.3 248.6L331.1 249.1L331.9 249.7L332.7 250.3L333.5 250.9L334.3 251.4L335.1 252.0L335.9 252.6L336.7 253.2L337.5 253.8L338.3 254.4L339.1 255.0L339.8 255.6L340.6 256.2L341.4 256.8L342.2 257.4L343.0 258.0L343.7 258.6L344.5 259.2L345.3 259.8L346.1 260.4L346.9 261.0L347.7 261.6L348.5 262.2L349.3 262.8L350.1 263.4L350.9 264.0L351.6 264.5L352.4 265.1L353.2 265.7L354.0 266.3L354.8 266.9L355.7 267.4L356.5 268.0L357.3 268.6L358.1 269.1L358.9 269.6L359.8 270.2L360.6 270.7L361.4 271.2L362.3 271.7L363.1 272.2L364.0 272.8L364.8 273.3L365.7 273.8L366.5 274.3L367.3 274.9L368.2 275.4L369.0 275.9L369.8 276.5L370.6 277.0L371.5 277.6L372.3 278.1L373.1 278.7L373.9 279.2L374.7 279.8L375.6 280.3L376.4 280.9L377.2 281.4L378.0 282.0L378.8 282.5L379.6 283.1L380.5 283.7L381.3 284.2L382.1 284.8L382.9 285.4L383.7 285.9L384.5 286.5L385.3 287.1L386.1 287.6L386.9 288.2L387.7 288.8L388.5 289.3L389.3 289.9L390.2 290.5L391.0 291.0L391.8 291.6L392.6 292.1L393.4 292.7L394.2 293.2L395.1 293.8L395.9 294.4L396.7 294.9L397.5 295.5L398.3 296.0L399.1 296.6L399.9 297.2L400.8 297.7L401.6 298.3L402.4 298.9L403.2 299.5L404.0 300.1L404.7 300.6L405.5 301.2L406.3 301.8L407.1 302.4L407.9 303.0L408.7 303.6L409.5 304.1L410.4 304.7L411.2 305.2L412.0 305.8L412.9 306.3L413.7 306.8L414.5 307.3L415.4 307.8L416.3 308.3L417.1 308.8L418.0 309.3L418.8 309.8L419.7 310.3L420.5 310.8L421.4 311.3L422.2 311.8L423.1 312.3L423.9 312.8L424.7 313.3L425.6 313.9L426.4 314.4L427.2 314.9L428.1 315.5L428.9 316.0L429.7 316.5L430.6 317.1L431.4 317.6L432.2 318.2L433.0 318.7L433.9 319.2L434.7 319.8L435.5 320.3L436.4 320.9L437.2 321.4L438.0 321.9L438.9 322.5L439.7 323.0L440.5 323.5L441.4 324.1L442.2 324.6L443.0 325.2L443.8 325.7L444.6 326.3L445.4 326.9L446.2 327.5L447.0 328.1L447.8 328.7L448.5 329.3L449.3 329.9L450.0 330.6L450.8 331.2L451.5 331.9L452.3 332.5L453.1 333.1L453.8 333.8L454.6 334.4L455.4 335.0L456.2 335.6L456.9 336.2L457.7 336.7L458.6 337.3L459.4 337.9L460.2 338.4L461.0 339.0L461.8 339.5L462.6 340.1L463.5 340.6L464.3 341.2L465.1 341.7L465.9 342.3L466.8 342.8L467.6 343.4L468.4 343.9L469.2 344.5L470.1 345.0L470.9 345.6L471.7 346.1L472.5 346.7L473.3 347.2L474.2 347.7L475.0 348.3L475.8 348.8L476.6 349.4L477.5 349.9L478.3 350.5L479.1 351.0L479.9 351.6L480.7 352.2L481.5 352.7L482.3 353.3L483.1 353.9L483.9 354.5L484.7 355.0L485.5 355.6L486.3 356.2L487.1 356.8L487.9 357.4L488.7 358.0L489.5 358.6L490.3 359.2L491.1 359.8L491.9 360.3L492.7 360.9L493.5 361.5L494.3 362.1L495.1 362.6L495.9 363.2L496.7 363.8L497.5 364.4L498.3 364.9L499.1 365.5L500.0 366.1L500.8 366.6L501.6 367.2L502.4 367.7L503.2 368.2L504.1 368.8L504.9 369.3L505.8 369.8L506.6 370.3L507.5 370.7L508.4 371.2L509.2 371.7L510.1 372.1L511.0 372.6L511.9 373.0L512.8 373.5L513.6 374.0L514.5 374.4L515.4 374.9L516.2 375.4L517.0 375.9L517.9 376.5L518.7 377.0L519.5 377.6L520.3 378.2L521.1 378.7L521.9 379.3L522.7 379.9L523.4 380.5L524.2 381.1L525.0 381.8L525.8 382.4L526.6 383.0L527.4 383.6L528.2 384.1L529.0 384.7L529.8 385.3L530.6 385.9L531.4 386.4L532.2 387.0L533.0 387.5L533.9 388.1L534.7 388.6L535.5 389.2L536.3 389.7L537.2 390.3L538.0 390.8L538.8 391.3L539.6 391.9L540.5 392.4L541.3 392.9L542.1 393.5L543.0 394.0L543.8 394.6L544.6 395.1L545.4 395.6L546.3 396.2L547.1 396.7L547.9 397.3L548.8 397.8L549.6 398.3L550.4 398.9L551.3 399.4L552.1 399.9L552.9 400.4L553.8 401.0L554.6 401.5L555.5 402.0L556.3 402.5L557.1 403.0L558.0 403.5L558.8 404.0L559.7 404.5L560.5 405.0L561.4 405.5L562.3 406.0L563.1 406.5L564.0 407.0L564.8 407.5L565.7 408.0L566.5 408.5L567.4 409.0L568.2 409.5L569.1 410.0L569.9 410.5L570.8 411.0L571.7 411.5L572.5 412.0L573.4 412.5L574.2 412.9L575.1 413.4L576.0 413.9L576.8 414.4L577.7 414.9L578.5 415.4L579.4 415.9L580.2 416.4L581.1 416.9L582.0 417.3L582.8 417.8L583.7 418.3L584.6 418.8L585.4 419.3L586.3 419.7L587.2 420.2L588.0 420.7L588.9 421.2L589.7 421.7L590.6 422.2L591.5 422.7L592.3 423.2L593.1 423.7L594.0 424.2L594.8 424.8L595.6 425.3L596.4 425.9L597.2 426.4L598.0 427.0L598.8 427.6L599.6 428.2L600.4 428.8L601.2 429.4L602.0 430.0L602.8 430.6L603.6 431.2L604.4 431.8L605.1 432.4L606.0 432.9L606.8 433.5L607.6 434.1L608.4 434.6L609.2 435.1L610.1 435.7L610.9 436.2L611.7 436.7L612.6 437.2L613.4 437.8L614.3 438.3L615.1 438.8L615.9 439.3L616.8 439.8L617.6 440.3L618.5 440.8L619.3 441.3L620.2 441.8L621.0 442.3L621.9 442.8L622.7 443.4L623.6 443.9L624.4 444.4L625.3 444.9L626.1 445.4L627.0 445.9L627.8 446.4L628.7 446.9L629.6 447.4L630.4 447.9L631.3 448.3L632.1 448.8L633.0 449.3L633.9 449.7L634.8 450.2L635.6 450.6L636.5 451.0L637.4 451.5L638.3 451.9L639.2 452.3L640.2 452.7L641.1 453.1L642.0 453.5L642.9 453.9L643.8 454.3L644.7 454.7L645.6 455.1L646.5 455.5L647.3 456.0L648.2 456.4L649.1 456.9L649.9 457.4L650.8 457.9L651.6 458.4L652.4 459.0L653.3 459.5L654.1 460.1L654.9 460.6L655.7 461.2L656.5 461.8L657.3 462.3L658.2 462.9L659.0 463.4L659.8 463.9L660.7 464.5L661.5 465.0L662.4 465.4L663.2 465.9L664.1 466.4L665.0 466.8L665.9 467.3L666.8 467.7L667.7 468.1L668.5 468.5L669.4 469.0L670.3 469.4L671.2 469.8L672.1 470.2L673.0 470.6L673.9 471.0L674.8 471.5L675.7 471.9L676.6 472.3L677.5 472.7L678.4 473.1L679.3 473.6L680.2 474.0L681.1 474.4L682.0 474.8L682.9 475.2L683.8 475.6L684.7 476.1L685.6 476.5L686.5 476.9L687.4 477.4L688.2 477.8L689.1 478.2L690.0 478.7L690.9 479.2L691.7 479.6L692.6 480.1L693.4 480.6L694.3 481.1L695.1 481.6L696.0 482.2L696.8 482.7L697.7 483.2L698.5 483.7L699.3 484.2L700.2 484.8L701.0 485.3L701.9 485.8L702.8 486.2L703.6 486.7L704.5 487.2L705.4 487.6L706.2 488.1L707.1 488.5L708.0 488.9L708.9 489.4L709.8 489.8L710.7 490.2L711.6 490.7L712.5 491.1L713.4 491.5L714.3 491.9L715.2 492.4L716.0 492.8L716.9 493.2L717.8 493.7L718.7 494.1L719.6 494.6L720.5 495.0L721.3 495.5L722.2 495.9L723.1 496.4L723.9 496.9L724.8 497.3L725.7 497.8L726.6 498.3L727.4 498.7L728.3 499.2L729.2 499.7L730.1 500.1L730.9 500.6L731.8 501.0L732.7 501.5L733.6 501.9L734.5 502.3L735.4 502.8L736.2 503.2L737.1 503.6L738.0 504.0L738.9 504.4L739.9 504.8L740.8 505.2L741.7 505.6L742.6 506.0L743.5 506.4L744.4 506.7L745.3 507.1L746.2 507.5L747.1 507.9L748.0 508.3L748.9 508.7L749.8 509.1L750.7 509.5L751.6 510.0L752.5 510.4L753.4 510.8L754.3 511.2L755.2 511.7L756.1 512.1L756.9 512.5L757.8 513.0L758.7 513.4L759.6 513.9L760.5 514.3L761.4 514.8L762.2 515.2L763.1 515.7L764.0 516.1L764.9 516.6L765.7 517.0L766.6 517.5L767.5 517.9L768.4 518.4L769.3 518.8L770.1 519.3L771.0 519.8L771.9 520.2L772.8 520.7L773.6 521.2L774.5 521.6L775.4 522.1L776.2 522.6L777.1 523.0L778.0 523.5L778.9 524.0L779.7 524.4L780.6 524.9L781.5 525.3L782.4 525.8L783.2 526.2L784.1 526.7L785.0 527.1L785.9 527.5L786.8 528.0L787.7 528.4L788.6 528.8L789.5 529.2L790.4 529.5L791.3 529.9L792.2 530.3L793.2 530.7L794.1 531.0L795.0 531.4L795.9 531.7L796.8 532.1L797.8 532.5L798.7 532.8L799.6 533.2L800.5 533.6L801.4 533.9L802.4 534.3L803.3 534.7L804.2 535.1L805.1 535.5L806.0 535.9L806.9 536.3L807.8 536.7L808.7 537.1L809.6 537.5L810.5 538.0L811.3 538.4L812.2 538.8L813.1 539.3L814.0 539.7L814.9 540.1L815.8 540.6L816.7 541.0L817.5 541.5L818.4 541.9L819.3 542.3L820.2 542.8L821.1 543.2L822.0 543.6L822.9 544.0L823.8 544.5L824.7 544.9L825.6 545.3L826.5 545.7L827.4 546.1L828.3 546.5L829.2 546.9L830.1 547.3L831.0 547.7L831.9 548.1L832.8 548.5L833.7 548.9L834.6 549.3L835.5 549.7L836.4 550.0L837.4 550.4L838.3 550.8L839.2 551.2L840.1 551.6L841.0 551.9L841.9 552.3L842.9 552.6L843.8 553.0L844.7 553.4L845.6 553.7L846.5 554.0L847.5 554.4L848.4 554.7L849.3 555.0L850.3 555.3L851.2 555.7L852.1 556.0L853.1 556.3L854.0 556.6L855.0 556.9L855.9 557.2L856.8 557.5L857.8 557.8L858.7 558.1L859.7 558.4L860.6 558.7L861.6 559.0L862.5 559.2L863.5 559.5L864.4 559.8L865.3 560.1L866.3 560.4L867.2 560.7L868.2 561.0L869.1 561.3L870.0 561.6L871.0 562.0L871.9 562.3L872.9 562.6L873.8 562.9L874.7 563.3L875.7 563.6L876.6 563.9L877.5 564.3L878.5 564.6L879.4 564.9L880.4 565.2L881.3 565.5L882.2 565.9L883.2 566.1L884.1 566.4L885.1 566.7L886.0 567.0L887.0 567.2L887.9 567.5L888.9 567.7L889.8 567.9L890.8 568.1L891.8 568.3L892.7 568.5L893.7 568.6L894.7 568.8L895.6 568.9L896.6 569.1L897.6 569.2L898.6 569.4L899.5 569.5L900.5 569.6L901.5 569.8L902.5 569.9L903.5 570.0L904.5 570.1L905.4 570.3L906.4 570.4L907.4 570.5L908.4 570.6L909.4 570.8L910.4 570.9L911.3 571.0L912.3 571.2L913.3 571.3L914.3 571.5L915.2 571.6L916.2 571.8L917.2 571.9L918.2 572.1L919.1 572.2L920.1 572.4L921.1 572.6L922.1 572.7L923.0 572.9L924.0 573.0L925.0 573.2" stroke="#ff0000" stroke-dasharray="15.7 8.6"/>
</g>
<g>
<use href="#t" x="89.6" y="622.0"/>
<use href="#t" x="89.9" y="619.8"/>
<use href="#t" x="90.2" y="617.3"/>
<use href="#t" x="90.5" y="614.5"/>
<use href="#t" x="90.8" y="611.4"/>
<use href="#t" x="91.2" y="607.9"/>
<use href="#t" x="91.6" y="604.0"/>
<use href="#t" x="92.0" y="599.6"/>
<use href="#t" x="92.5" y="594.8"/>
<use href="#t" x="93.0" y="589.4"/>
<use href="#t" x="93.5" y="583.5"/>
<use href="#t" x="94.0" y="576.9"/>
<use href="#t" x="94.5" y="569.6"/>
<use href="#t" x="95.1" y="561.5"/>
<use href="#t" x="95.7" y="552.8"/>
<use href="#t" x="96.3" y="543.2"/>
<use href="#t" x="96.9" y="532.8"/>
<use href="#t" x="97.5" y="521.6"/>
<use href="#t" x="98.1" y="509.7"/>
<use href="#t" x="98.7" y="497.0"/>
<use href="#t" x="99.3" y="483.3"/>
<use href="#t" x="99.7" y="468.4"/>
<use href="#t" x="100.2" y="452.3"/>
<use href="#t" x="100.5" y="434.7"/>
<use href="#t" x="100.8" y="415.6"/>
<use href="#t" x="101.3" y="395.1"/>
<use href="#t" x="102.1" y="373.4"/>
<use href="#t" x="103.0" y="350.6"/>
<use href="#t" x="103.8" y="326.5"/>
<use href="#t" x="104.8" y="301.9"/>
<use href="#t" x="106.0" y="276.8"/>
<use href="#t" x="107.2" y="251.2"/>
<use href="#t" x="108.2" y="225.0"/>
<use href="#t" x="109.2" y="195.8"/>
<use href="#t" x="110.5" y="163.7"/>
<use href="#t" x="113.5" y="128.0"/>
<use href="#t" x="115.5" y="115.0"/>
<use href="#t" x="117.5" y="106.0"/>
<use href="#t" x="120.0" y="99.5"/>
<use href="#t" x="123.0" y="96.5"/>
<use href="#t" x="127.0" y="97.9"/>
<use href="#t" x="131.5" y="101.5"/>
<use href="#t" x="136.5" y="111.7"/>
<use href="#t" x="142.0" y="122.8"/>
<use href="#t" x="148.0" y="134.7"/>
<use href="#t" x="155.0" y="150.1"/>
<use href="#t" x="163.0" y="163.5"/>
<use href="#t" x="172.4" y="173.7"/>
<use href="#t" x="181.7" y="181.1"/>
<use href="#t" x="190.9" y="186.5"/>
<use href="#t" x="200.2" y="190.9"/>
<use href="#t" x="208.9" y="194.2"/>
<use href="#t" x="217.8" y="197.6"/>
<use href="#t" x="226.1" y="200.3"/>
<use href="#t" x="235.0" y="203.0"/>
<use href="#t" x="243.7" y="205.7"/>
<use href="#t" x="252.0" y="208.3"/>
<use href="#t" x="261.3" y="211.5"/>
<use href="#t" x="269.6" y="214.9"/>
<use href="#t" x="278.0" y="218.5"/>
<use href="#t" x="287.2" y="222.8"/>
<use href="#t" x="296.5" y="227.5"/>
<use href="#t" x="306.7" y="232.7"/>
<use href="#t" x="315.9" y="238.4"/>
<use href="#t" x="325.6" y="245.3"/>
<use href="#t" x="336.1" y="252.7"/>
<use href="#t" x="346.9" y="261.0"/>
<use href="#t" x="357.2" y="268.5"/>
<use href="#t" x="367.4" y="274.9"/>
<use href="#t" x="378.5" y="282.3"/>
<use href="#t" x="389.2" y="289.8"/>
<use href="#t" x="400.3" y="297.4"/>
<use href="#t" x="411.0" y="305.1"/>
<use href="#t" x="422.6" y="312.0"/>
<use href="#t" x="434.1" y="319.4"/>
<use href="#t" x="445.6" y="327.0"/>
<use href="#t" x="455.9" y="335.4"/>
<use href="#t" x="468.7" y="344.1"/>
<use href="#t" x="481.5" y="352.7"/>
<use href="#t" x="493.1" y="361.2"/>
<use href="#t" x="504.8" y="369.2"/>
<use href="#t" x="517.2" y="376.0"/>
<use href="#t" x="529.5" y="385.1"/>
<use href="#t" x="542.0" y="393.4"/>
<use href="#t" x="554.8" y="401.6"/>
<use href="#t" x="567.2" y="408.9"/>
<use href="#t" x="580.3" y="416.4"/>
<use href="#t" x="594.1" y="424.3"/>
<use href="#t" x="607.5" y="434.0"/>
<use href="#t" x="621.3" y="442.5"/>
<use href="#t" x="634.4" y="450.0"/>
<use href="#t" x="648.2" y="456.4"/>
<use href="#t" x="662.3" y="465.4"/>
<use href="#t" x="676.4" y="472.2"/>
<use href="#t" x="690.2" y="478.8"/>
<use href="#t" x="703.6" y="486.7"/>
<use href="#t" x="718.3" y="493.9"/>
<use href="#t" x="734.8" y="502.5"/>
<use href="#t" x="751.3" y="509.8"/>
<use href="#t" x="768.4" y="518.4"/>
<use href="#t" x="786.9" y="528.0"/>
<use href="#t" x="805.4" y="535.6"/>
<use href="#t" x="825.4" y="545.2"/>
<use href="#t" x="845.9" y="553.8"/>
<use href="#t" x="868.1" y="561.0"/>
<use href="#t" x="890.3" y="568.0"/>
<use href="#t" x="913.1" y="571.3"/>
</g><g>
<use href="#p" x="89.5" y="622.4"/>
<use href="#p" x="89.8" y="620.1"/>
<use href="#p" x="90.1" y="617.5"/>
<use href="#p" x="90.5" y="614.6"/>
<use href="#p" x="90.8" y="611.3"/>
<use href="#p" x="91.2" y="607.6"/>
<use href="#p" x="91.7" y="603.5"/>
<use href="#p" x="92.1" y="598.8"/>
<use href="#p" x="92.6" y="593.6"/>
<use href="#p" x="93.1" y="587.8"/>
<use href="#p" x="93.6" y="581.3"/>
<use href="#p" x="94.2" y="574.1"/>
<use href="#p" x="94.8" y="566.1"/>
<use href="#p" x="95.4" y="557.3"/>
<use href="#p" x="96.0" y="547.6"/>
<use href="#p" x="96.7" y="537.0"/>
<use href="#p" x="97.3" y="525.5"/>
<use href="#p" x="97.9" y="513.2"/>
<use href="#p" x="98.6" y="500.0"/>
<use href="#p" x="99.2" y="485.9"/>
<use href="#p" x="99.7" y="470.4"/>
<use href="#p" x="100.2" y="453.5"/>
<use href="#p" x="100.5" y="435.1"/>
<use href="#p" x="100.8" y="415.0"/>
<use href="#p" x="101.4" y="393.2"/>
<use href="#p" x="102.2" y="370.2"/>
<use href="#p" x="103.1" y="345.9"/>
<use href="#p" x="104.0" y="320.4"/>
<use href="#p" x="105.1" y="294.3"/>
<use href="#p" x="106.4" y="267.6"/>
<use href="#p" x="107.7" y="240.4"/>
<use href="#p" x="108.7" y="211.5"/>
<use href="#p" x="109.9" y="179.0"/>
<use href="#p" x="111.9" y="145.1"/>
<use href="#p" x="114.0" y="124.0"/>
<use href="#p" x="116.2" y="111.0"/>
<use href="#p" x="118.5" y="103.0"/>
<use href="#p" x="121.5" y="97.5"/>
<use href="#p" x="124.5" y="96.8"/>
<use href="#p" x="129.0" y="99.2"/>
<use href="#p" x="133.4" y="104.3"/>
<use href="#p" x="138.4" y="115.7"/>
<use href="#p" x="142.9" y="124.6"/>
<use href="#p" x="147.8" y="134.3"/>
<use href="#p" x="152.8" y="144.9"/>
<use href="#p" x="158.5" y="156.9"/>
<use href="#p" x="166.5" y="167.7"/>
<use href="#p" x="173.2" y="174.4"/>
<use href="#p" x="182.5" y="181.6"/>
<use href="#p" x="191.7" y="186.9"/>
<use href="#p" x="201.0" y="191.2"/>
<use href="#p" x="209.7" y="194.5"/>
<use href="#p" x="218.6" y="197.9"/>
<use href="#p" x="226.9" y="200.5"/>
<use href="#p" x="235.8" y="203.2"/>
<use href="#p" x="244.5" y="205.9"/>
<use href="#p" x="252.7" y="208.5"/>
<use href="#p" x="262.0" y="211.8"/>
<use href="#p" x="270.3" y="215.2"/>
<use href="#p" x="278.7" y="218.8"/>
<use href="#p" x="287.9" y="223.2"/>
<use href="#p" x="297.2" y="227.8"/>
<use href="#p" x="307.4" y="233.1"/>
<use href="#p" x="316.6" y="238.9"/>
<use href="#p" x="326.3" y="245.7"/>
<use href="#p" x="336.4" y="253.0"/>
<use href="#p" x="346.5" y="260.7"/>
<use href="#p" x="356.2" y="267.8"/>
<use href="#p" x="365.7" y="273.8"/>
<use href="#p" x="376.1" y="280.7"/>
<use href="#p" x="386.7" y="288.1"/>
<use href="#p" x="397.8" y="295.7"/>
<use href="#p" x="408.5" y="303.4"/>
<use href="#p" x="420.1" y="310.5"/>
<use href="#p" x="431.6" y="317.8"/>
<use href="#p" x="443.1" y="325.2"/>
<use href="#p" x="453.4" y="333.4"/>
<use href="#p" x="466.2" y="342.4"/>
<use href="#p" x="479.5" y="351.3"/>
<use href="#p" x="491.5" y="360.1"/>
<use href="#p" x="503.7" y="368.6"/>
<use href="#p" x="516.6" y="375.7"/>
<use href="#p" x="529.4" y="385.1"/>
<use href="#p" x="542.5" y="393.7"/>
<use href="#p" x="555.8" y="402.2"/>
<use href="#p" x="568.4" y="409.6"/>
<use href="#p" x="581.5" y="417.1"/>
<use href="#p" x="595.3" y="425.1"/>
<use href="#p" x="608.7" y="434.8"/>
<use href="#p" x="622.5" y="443.2"/>
<use href="#p" x="635.6" y="450.6"/>
<use href="#p" x="650.2" y="457.5"/>
<use href="#p" x="664.9" y="466.8"/>
<use href="#p" x="678.9" y="473.4"/>
<use href="#p" x="692.6" y="480.2"/>
<use href="#p" x="708.2" y="489.0"/>
<use href="#p" x="724.0" y="496.9"/>
<use href="#p" x="740.6" y="505.1"/>
<use href="#p" x="757.1" y="512.6"/>
<use href="#p" x="774.2" y="521.5"/>
<use href="#p" x="792.7" y="530.5"/>
<use href="#p" x="810.9" y="538.2"/>
<use href="#p" x="830.0" y="547.3"/>
<use href="#p" x="850.4" y="555.4"/>
<use href="#p" x="872.7" y="562.5"/>
<use href="#p" x="895.0" y="568.8"/>
<use href="#p" x="917.9" y="572.0"/>
</g><g>
<use href="#c" x="89.5" y="622.8"/>
<use href="#c" x="89.7" y="620.8"/>
<use href="#c" x="90.0" y="618.6"/>
<use href="#c" x="90.3" y="616.1"/>
<use href="#c" x="90.6" y="613.4"/>
<use href="#c" x="90.9" y="610.4"/>
<use href="#c" x="91.3" y="607.0"/>
<use href="#c" x="91.7" y="603.3"/>
<use href="#c" x="92.1" y="599.1"/>
<use href="#c" x="92.5" y="594.5"/>
<use href="#c" x="93.0" y="589.5"/>
<use href="#c" x="93.4" y="583.9"/>
<use href="#c" x="93.9" y="577.8"/>
<use href="#c" x="94.4" y="571.1"/>
<use href="#c" x="95.0" y="563.7"/>
<use href="#c" x="95.5" y="555.7"/>
<use href="#c" x="96.1" y="547.0"/>
<use href="#c" x="96.6" y="537.6"/>
<use href="#c" x="97.2" y="527.4"/>
<use href="#c" x="97.8" y="516.6"/>
<use href="#c" x="98.3" y="505.2"/>
<use href="#c" x="98.9" y="493.0"/>
<use href="#c" x="99.4" y="479.9"/>
<use href="#c" x="99.8" y="465.7"/>
<use href="#c" x="100.2" y="450.4"/>
<use href="#c" x="100.5" y="433.8"/>
<use href="#c" x="100.7" y="415.9"/>
<use href="#c" x="101.2" y="396.7"/>
<use href="#c" x="102.0" y="376.6"/>
<use href="#c" x="102.8" y="355.4"/>
<use href="#c" x="103.6" y="333.2"/>
<use href="#c" x="104.4" y="310.3"/>
<use href="#c" x="105.5" y="287.0"/>
<use href="#c" x="106.7" y="263.3"/>
<use href="#c" x="107.7" y="239.0"/>
<use href="#c" x="108.6" y="213.3"/>
<use href="#c" x="109.6" y="184.8"/>
<use href="#c" x="111.1" y="154.8"/>
<use href="#c" x="114.4" y="129.4"/>
<use href="#c" x="118.4" y="113.9"/>
<use href="#c" x="123.4" y="112.4"/>
<use href="#c" x="130.4" y="120.4"/>
<use href="#c" x="136.9" y="138.3"/>
<use href="#c" x="145.8" y="157.4"/>
<use href="#c" x="153.5" y="172.7"/>
<use href="#c" x="162.9" y="188.1"/>
<use href="#c" x="171.5" y="200.0"/>
<use href="#c" x="180.9" y="210.3"/>
<use href="#c" x="189.6" y="217.6"/>
<use href="#c" x="198.2" y="222.9"/>
<use href="#c" x="207.0" y="226.9"/>
<use href="#c" x="215.6" y="231.2"/>
<use href="#c" x="225.5" y="238.3"/>
<use href="#c" x="234.6" y="244.0"/>
<use href="#c" x="244.0" y="249.7"/>
<use href="#c" x="252.6" y="255.4"/>
<use href="#c" x="261.1" y="261.1"/>
<use href="#c" x="269.7" y="268.2"/>
<use href="#c" x="278.2" y="275.3"/>
<use href="#c" x="286.8" y="282.5"/>
<use href="#c" x="296.8" y="289.6"/>
<use href="#c" x="306.7" y="298.1"/>
<use href="#c" x="316.7" y="306.7"/>
<use href="#c" x="326.6" y="316.5"/>
<use href="#c" x="338.5" y="326.4"/>
<use href="#c" x="350.8" y="337.5"/>
<use href="#c" x="362.3" y="348.0"/>
<use href="#c" x="373.8" y="358.5"/>
<use href="#c" x="385.4" y="368.5"/>
<use href="#c" x="396.9" y="379.0"/>
<use href="#c" x="408.0" y="389.0"/>
<use href="#c" x="418.9" y="399.5"/>
<use href="#c" x="429.9" y="407.9"/>
<use href="#c" x="441.9" y="415.9"/>
<use href="#c" x="453.8" y="425.8"/>
<use href="#c" x="465.8" y="435.8"/>
<use href="#c" x="477.8" y="445.8"/>
<use href="#c" x="489.7" y="454.8"/>
<use href="#c" x="502.1" y="463.8"/>
<use href="#c" x="514.7" y="472.1"/>
<use href="#c" x="526.7" y="480.3"/>
<use href="#c" x="540.3" y="490.2"/>
<use href="#c" x="554.1" y="498.9"/>
<use href="#c" x="567.9" y="507.0"/>
<use href="#c" x="581.0" y="514.6"/>
<use href="#c" x="595.1" y="522.5"/>
<use href="#c" x="608.9" y="530.0"/>
<use href="#c" x="623.0" y="538.2"/>
<use href="#c" x="637.0" y="544.8"/>
<use href="#c" x="651.5" y="551.3"/>
<use href="#c" x="665.6" y="556.9"/>
<use href="#c" x="680.0" y="563.5"/>
<use href="#c" x="695.5" y="571.0"/>
<use href="#c" x="711.8" y="578.9"/>
<use href="#c" x="729.9" y="584.4"/>
<use href="#c" x="748.4" y="590.1"/>
<use href="#c" x="767.5" y="596.1"/>
<use href="#c" x="788.3" y="600.1"/>
<use href="#c" x="809.7" y="605.2"/>
<use href="#c" x="832.5" y="608.7"/>
<use href="#c" x="854.7" y="611.8"/>
<use href="#c" x="872.4" y="612.9"/>
<use href="#c" x="896.6" y="615.2"/>
<use href="#c" x="917.1" y="616.6"/>
</g>
<g stroke="#000" fill="none">
<rect x="89.0" y="40.0" width="832.2" height="582.8" stroke-width="3.7"/>
<path d="M172.2 622.8v-16.7M255.4 622.8v-16.7M338.7 622.8v-16.7M421.9 622.8v-16.7M505.1 622.8v-16.7M588.3 622.8v-16.7M671.5 622.8v-16.7M754.8 622.8v-16.7M838.0 622.8v-16.7M921.2 533.1h-17M921.2 443.5h-17M921.2 353.8h-17M921.2 264.2h-17M921.2 174.5h-17M921.2 84.8h-17" stroke-width="3.1"/>
</g>
<g clip-path="url(#clip)" fill="none" stroke-width="3.7">
<path d="M89.0 40.0L89.0 41.0L89.1 42.1L89.1 43.1L89.2 44.1L89.2 45.2L89.3 46.2L89.3 47.3L89.4 48.3L89.4 49.3L89.5 50.4L89.5 51.4L89.6 52.4L89.6 53.5L89.7 54.5L89.7 55.5L89.8 56.6L89.8 57.6L89.9 58.7L89.9 59.7L90.0 60.7L90.0 61.8L90.1 62.8L90.1 63.8L90.2 64.9L90.2 65.9L90.3 66.9L90.3 68.0L90.4 69.0L90.4 70.1L90.5 71.1L90.5 72.1L90.6 73.2L90.6 74.2L90.7 75.2L90.7 76.3L90.8 77.3L90.8 78.3L90.8 79.4L90.9 80.4L90.9 81.5L91.0 82.5L91.0 83.5L91.1 84.6L91.1 85.6L91.2 86.6L91.2 87.7L91.3 88.7L91.3 89.7L91.4 90.8L91.4 91.8L91.5 92.8L91.5 93.9L91.6 94.9L91.6 96.0L91.7 97.0L91.7 98.0L91.8 99.1L91.8 100.1L91.8 101.1L91.9 102.2L91.9 103.2L92.0 104.2L92.0 105.3L92.1 106.3L92.1 107.4L92.2 108.4L92.2 109.4L92.3 110.5L92.3 111.5L92.4 112.5L92.4 113.6L92.5 114.6L92.5 115.6L92.6 116.7L92.6 117.7L92.6 118.8L92.7 119.8L92.7 120.8L92.8 121.9L92.8 122.9L92.9 123.9L92.9 125.0L93.0 126.0L93.0 127.0L93.1 128.1L93.1 129.1L93.2 130.2L93.2 131.2L93.3 132.2L93.3 133.3L93.3 134.3L93.4 135.3L93.4 136.4L93.5 137.4L93.5 138.4L93.6 139.5L93.6 140.5L93.7 141.6L93.7 142.6L93.8 143.6L93.8 144.7L93.9 145.7L93.9 146.7L93.9 147.8L94.0 148.8L94.0 149.8L94.1 150.9L94.1 151.9L94.2 153.0L94.2 154.0L94.2 155.0L94.3 156.1L94.3 157.1L94.4 158.1L94.4 159.2L94.5 160.2L94.5 161.2L94.6 162.3L94.6 163.3L94.6 164.4L94.7 165.4L94.7 166.4L94.8 167.5L94.8 168.5L94.9 169.5L94.9 170.6L94.9 171.6L95.0 172.7L95.0 173.7L95.1 174.7L95.1 175.8L95.2 176.8L95.2 177.8L95.3 178.9L95.3 179.9L95.3 180.9L95.4 182.0L95.4 183.0L95.5 184.1L95.5 185.1L95.6 186.1L95.6 187.2L95.7 188.2L95.7 189.2L95.8 190.3L95.8 191.3L95.8 192.3L95.9 193.4L95.9 194.4L96.0 195.5L96.0 196.5L96.1 197.5L96.1 198.6L96.2 199.6L96.2 200.6L96.3 201.7L96.3 202.7L96.4 203.7L96.4 204.8L96.5 205.8L96.5 206.8L96.6 207.9L96.6 208.9L96.7 210.0L96.7 211.0L96.8 212.0L96.8 213.1L96.9 214.1L96.9 215.1L97.0 216.2L97.0 217.2L97.1 218.2L97.1 219.3L97.2 220.3L97.3 221.4L97.3 222.4L97.4 223.4L97.4 224.5L97.5 225.5L97.5 226.5L97.6 227.6L97.6 228.6L97.7 229.6L97.7 230.7L97.8 231.7L97.9 232.8L97.9 233.8L98.0 234.8L98.0 235.9L98.1 236.9L98.1 237.9L98.2 239.0L98.2 240.0L98.3 241.0L98.4 242.1L98.4 243.1L98.5 244.1L98.5 245.2L98.6 246.2L98.6 247.3L98.7 248.3L98.8 249.3L98.8 250.4L98.9 251.4L98.9 252.4L99.0 253.5L99.1 254.5L99.1 255.5L99.2 256.6L99.2 257.6L99.3 258.6L99.4 259.7L99.4 260.7L99.5 261.8L99.6 262.8L99.6 263.8L99.7 264.9L99.8 265.9L99.8 266.9L99.9 268.0L100.0 269.0L100.0 270.0L100.1 271.1L100.1 272.1L100.2 273.1L100.3 274.2L100.3 275.2L100.4 276.2L100.5 277.3L100.5 278.3L100.6 279.4L100.7 280.4L100.7 281.4L100.8 282.5L100.9 283.5L100.9 284.5L101.0 285.6L101.1 286.6L101.1 287.6L101.2 288.7L101.3 289.7L101.3 290.7L101.4 291.8L101.5 292.8L101.5 293.8L101.6 294.9L101.7 295.9L101.7 297.0L101.8 298.0L101.8 299.0L101.9 300.1L102.0 301.1L102.0 302.1L102.1 303.2L102.1 304.2L102.2 305.2L102.3 306.3L102.3 307.3L102.4 308.3L102.4 309.4L102.5 310.4L102.5 311.5L102.6 312.5L102.6 313.5L102.7 314.6L102.7 315.6L102.8 316.6L102.8 317.7L102.9 318.7L102.9 319.8L103.0 320.8L103.0 321.8L103.1 322.9L103.1 323.9L103.1 324.9L103.2 326.0L103.2 327.0L103.3 328.1L103.3 329.1L103.4 330.1L103.4 331.2L103.5 332.2L103.5 333.2L103.6 334.3L103.7 335.3L103.7 336.4L103.8 337.4L103.8 338.4L103.9 339.5L103.9 340.5L104.0 341.5L104.0 342.6L104.1 343.6L104.2 344.6L104.2 345.7L104.3 346.7L104.4 347.7L104.4 348.8L104.5 349.8L104.6 350.8L104.7 351.9L104.7 352.9L104.8 353.9L104.9 355.0L105.0 356.0L105.0 357.0L105.1 358.1L105.2 359.1L105.3 360.1L105.4 361.2L105.5 362.2L105.6 363.2L105.8 364.2L105.9 365.3L106.0 366.3L106.2 367.3L106.4 368.4L106.5 369.4L106.7 370.4L106.8 371.4L107.0 372.5L107.2 373.5L107.3 374.5L107.5 375.5L107.7 376.6L107.8 377.6L108.0 378.6L108.1 379.6L108.3 380.7L108.4 381.7L108.6 382.7L108.7 383.7L108.9 384.8L109.0 385.8L109.1 386.8L109.3 387.9L109.4 388.9L109.6 389.9L109.7 390.9L109.8 392.0L110.0 393.0L110.1 394.0L110.3 395.1L110.4 396.1L110.6 397.1L110.7 398.1L110.9 399.2L111.0 400.2L111.2 401.2L111.4 402.2L111.5 403.3L111.7 404.3L111.9 405.3L112.0 406.3L112.2 407.4L112.4 408.4L112.5 409.4L112.7 410.4L112.9 411.5L113.1 412.5L113.3 413.5L113.5 414.5L113.7 415.5L113.9 416.5L114.1 417.6L114.3 418.6L114.5 419.6L114.7 420.6L115.0 421.6L115.2 422.6L115.4 423.6L115.7 424.6L116.0 425.6L116.2 426.6L116.5 427.6L116.8 428.6L117.1 429.6L117.3 430.6L117.6 431.6L117.9 432.6L118.2 433.6L118.5 434.6L118.8 435.6L119.1 436.6L119.4 437.6L119.8 438.6L120.1 439.6L120.4 440.6L120.7 441.6L121.0 442.5L121.3 443.5L121.6 444.5L122.0 445.5L122.3 446.5L122.6 447.5L122.9 448.5L123.3 449.5L123.6 450.5L124.0 451.5L124.3 452.5L124.7 453.5L125.0 454.4L125.4 455.4L125.8 456.4L126.2 457.3L126.6 458.3L127.0 459.2L127.4 460.2L127.8 461.1L128.2 462.0L128.7 462.9L129.1 463.8L129.6 464.8L130.1 465.7L130.6 466.6L131.2 467.5L131.7 468.4L132.3 469.3L132.8 470.1L133.4 471.0L134.0 471.9L134.7 472.7L135.3 473.6L135.9 474.4L136.6 475.2L137.2 476.0L137.9 476.8L138.6 477.6L139.3 478.3L140.0 479.0L140.7 479.7L141.5 480.4L142.2 481.1L143.0 481.8L143.8 482.4L144.7 483.1L145.5 483.7L146.3 484.4L147.2 485.0L148.0 485.6L148.9 486.2L149.8 486.8L150.6 487.4L151.5 488.0L152.3 488.6L153.2 489.1L154.0 489.7L154.9 490.3L155.8 490.8L156.7 491.4L157.6 491.9L158.5 492.4L159.4 493.0L160.3 493.5L161.2 494.0L162.1 494.5L163.0 495.0L163.9 495.5L164.8 496.0L165.7 496.5L166.7 496.9L167.6 497.4L168.5 497.8L169.4 498.3L170.4 498.8L171.3 499.2L172.3 499.6L173.2 500.1L174.2 500.5L175.1 500.9L176.1 501.3L177.0 501.7L178.0 502.1L179.0 502.5L179.9 502.9L180.9 503.2L181.9 503.6L182.9 503.9L183.8 504.2L184.8 504.5L185.8 504.8L186.8 505.1L187.8 505.4L188.8 505.6L189.8 505.9L190.8 506.2L191.8 506.4L192.9 506.7L193.9 506.9L194.9 507.2L195.9 507.4L196.9 507.6L197.9 507.9L198.9 508.1L199.9 508.4L200.9 508.6L201.9 508.8L203.0 509.0L204.0 509.3L205.0 509.5L206.0 509.7L207.0 509.9L208.0 510.1L209.1 510.3L210.1 510.5L211.1 510.7L212.1 511.0L213.1 511.2L214.1 511.4L215.2 511.6L216.2 511.8L217.2 512.0L218.2 512.2L219.2 512.4L220.2 512.6L221.3 512.8L222.3 512.9L223.3 513.1L224.3 513.3L225.3 513.5L226.4 513.7L227.4 513.9L228.4 514.1L229.4 514.3L230.4 514.5L231.5 514.6L232.5 514.8L233.5 515.0L234.5 515.2L235.5 515.4L236.6 515.6L237.6 515.7L238.6 515.9L239.6 516.1L240.7 516.3L241.7 516.4L242.7 516.6L243.7 516.8L244.8 517.0L245.8 517.1L246.8 517.3L247.8 517.5L248.8 517.7L249.9 517.8L250.9 518.0L251.9 518.2L252.9 518.4L253.9 518.6L255.0 518.8L256.0 519.0L257.0 519.2L258.0 519.4L259.0 519.6L260.1 519.8L261.1 520.0L262.1 520.2L263.1 520.4L264.1 520.6L265.1 520.8L266.1 521.0L267.2 521.2L268.2 521.5L269.2 521.7L270.2 521.9L271.2 522.1L272.2 522.3L273.2 522.6L274.3 522.8L275.3 523.0L276.3 523.2L277.3 523.4L278.3 523.7L279.3 523.9L280.3 524.1L281.4 524.3L282.4 524.6L283.4 524.8L284.4 525.0L285.4 525.3L286.4 525.5L287.4 525.7L288.4 525.9L289.5 526.2L290.5 526.4L291.5 526.6L292.5 526.8L293.5 527.1L294.5 527.3L295.5 527.5L296.5 527.7L297.6 528.0L298.6 528.2L299.6 528.4L300.6 528.6L301.6 528.9L302.6 529.1L303.6 529.3L304.6 529.6L305.7 529.8L306.7 530.0L307.7 530.2L308.7 530.5L309.7 530.7L310.7 530.9L311.7 531.2L312.7 531.4L313.7 531.6L314.8 531.9L315.8 532.1L316.8 532.3L317.8 532.6L318.8 532.8L319.8 533.0L320.8 533.3L321.8 533.5L322.8 533.7L323.9 533.9L324.9 534.2L325.9 534.4L326.9 534.6L327.9 534.9L328.9 535.1L329.9 535.3L330.9 535.6L331.9 535.8L333.0 536.0L334.0 536.3L335.0 536.5L336.0 536.7L337.0 537.0L338.0 537.2L339.0 537.4L340.0 537.7L341.0 537.9L342.1 538.1L343.1 538.4L344.1 538.6L345.1 538.8L346.1 539.1L347.1 539.3L348.1 539.5L349.1 539.8L350.1 540.0L351.2 540.2L352.2 540.5L353.2 540.7L354.2 540.9L355.2 541.2L356.2 541.4L357.2 541.6L358.2 541.9L359.2 542.1L360.2 542.3L361.3 542.6L362.3 542.8L363.3 543.0L364.3 543.3L365.3 543.5L366.3 543.7L367.3 544.0L368.3 544.2L369.3 544.4L370.4 544.6L371.4 544.9L372.4 545.1L373.4 545.3L374.4 545.6L375.4 545.8L376.4 546.0L377.4 546.2L378.5 546.4L379.5 546.7L380.5 546.9L381.5 547.1L382.5 547.3L383.5 547.5L384.5 547.8L385.6 548.0L386.6 548.2L387.6 548.4L388.6 548.6L389.6 548.8L390.6 549.1L391.6 549.3L392.7 549.5L393.7 549.7L394.7 549.9L395.7 550.1L396.7 550.3L397.7 550.6L398.8 550.8L399.8 551.0L400.8 551.2L401.8 551.4L402.8 551.6L403.8 551.8L404.9 552.0L405.9 552.2L406.9 552.4L407.9 552.6L408.9 552.8L409.9 553.1L411.0 553.3L412.0 553.5L413.0 553.7L414.0 553.9L415.0 554.1L416.0 554.3L417.1 554.5L418.1 554.7L419.1 554.9L420.1 555.1L421.1 555.3L422.1 555.5L423.2 555.7L424.2 555.9L425.2 556.1L426.2 556.3L427.2 556.5L428.3 556.7L429.3 556.9L430.3 557.1L431.3 557.3L432.3 557.5L433.3 557.7L434.4 557.9L435.4 558.0L436.4 558.2L437.4 558.4L438.4 558.6L439.5 558.8L440.5 559.0L441.5 559.2L442.5 559.4L443.5 559.6L444.6 559.8L445.6 560.0L446.6 560.2L447.6 560.3L448.6 560.5L449.7 560.7L450.7 560.9L451.7 561.1L452.7 561.3L453.7 561.5L454.8 561.7L455.8 561.9L456.8 562.0L457.8 562.2L458.8 562.4L459.9 562.6L460.9 562.8L461.9 563.0L462.9 563.2L463.9 563.3L465.0 563.5L466.0 563.7L467.0 563.9L468.0 564.1L469.1 564.2L470.1 564.4L471.1 564.6L472.1 564.8L473.1 564.9L474.2 565.1L475.2 565.3L476.2 565.5L477.2 565.6L478.3 565.8L479.3 566.0L480.3 566.1L481.3 566.3L482.4 566.5L483.4 566.6L484.4 566.8L485.4 567.0L486.4 567.2L487.5 567.3L488.5 567.5L489.5 567.7L490.5 567.9L491.6 568.0L492.6 568.2L493.6 568.4L494.6 568.6L495.6 568.8L496.7 569.0L497.7 569.2L498.7 569.3L499.7 569.5L500.7 569.7L501.8 570.0L502.8 570.2L503.8 570.4L504.8 570.6L505.8 570.8L506.8 571.0L507.8 571.3L508.8 571.5L509.9 571.7L510.9 572.0L511.9 572.2L512.9 572.4L513.9 572.7L514.9 572.9L515.9 573.1L516.9 573.3L518.0 573.6L519.0 573.8L520.0 574.0L521.0 574.2L522.0 574.4L523.0 574.6L524.1 574.8L525.1 575.0L526.1 575.2L527.1 575.4L528.1 575.6L529.1 575.8L530.2 576.0L531.2 576.2L532.2 576.4L533.2 576.5L534.2 576.7L535.3 576.9L536.3 577.1L537.3 577.3L538.3 577.4L539.4 577.6L540.4 577.8L541.4 578.0L542.4 578.1L543.5 578.3L544.5 578.4L545.5 578.6L546.5 578.8L547.6 578.9L548.6 579.1L549.6 579.2L550.6 579.3L551.7 579.5L552.7 579.6L553.7 579.8L554.7 579.9L555.8 580.0L556.8 580.2L557.8 580.3L558.9 580.5L559.9 580.6L560.9 580.7L561.9 580.9L563.0 581.0L564.0 581.1L565.0 581.3L566.1 581.4L567.1 581.6L568.1 581.7L569.1 581.8L570.2 582.0L571.2 582.1L572.2 582.2L573.3 582.4L574.3 582.5L575.3 582.6L576.3 582.8L577.4 582.9L578.4 583.0L579.4 583.2L580.5 583.3L581.5 583.4L582.5 583.6L583.5 583.7L584.6 583.8L585.6 584.0L586.6 584.1L587.7 584.2L588.7 584.4L589.7 584.5L590.7 584.6L591.8 584.8L592.8 584.9L593.8 585.0L594.9 585.2L595.9 585.3L596.9 585.4L598.0 585.6L599.0 585.7L600.0 585.8L601.0 586.0L602.1 586.1L603.1 586.2L604.1 586.4L605.2 586.5L606.2 586.6L607.2 586.8L608.2 586.9L609.3 587.1L610.3 587.2L611.3 587.4L612.3 587.5L613.4 587.7L614.4 587.8L615.4 588.0L616.5 588.1L617.5 588.3L618.5 588.4L619.5 588.6L620.6 588.7L621.6 588.8L622.6 589.0L623.6 589.1L624.7 589.3L625.7 589.4L626.7 589.5L627.8 589.7L628.8 589.8L629.8 589.9L630.8 590.0L631.9 590.2L632.9 590.3L633.9 590.4L635.0 590.5L636.0 590.6L637.0 590.7L638.1 590.8L639.1 590.9L640.1 591.0L641.2 591.1L642.2 591.2L643.2 591.4L644.3 591.5L645.3 591.6L646.3 591.7L647.4 591.8L648.4 591.9L649.4 592.0L650.4 592.1L651.5 592.2L652.5 592.4L653.5 592.5L654.6 592.6L655.6 592.7L656.6 592.9L657.7 593.0L658.7 593.1L659.7 593.3L660.7 593.4L661.8 593.5L662.8 593.6L663.8 593.8L664.9 593.9L665.9 594.0L666.9 594.1L668.0 594.3L669.0 594.4L670.0 594.5L671.0 594.6L672.1 594.7L673.1 594.9L674.1 595.0L675.2 595.1L676.2 595.2L677.2 595.3L678.3 595.4L679.3 595.5L680.3 595.6L681.4 595.7L682.4 595.8L683.4 595.9L684.5 596.0L685.5 596.1L686.5 596.2L687.6 596.3L688.6 596.4L689.6 596.5L690.6 596.6L691.7 596.8L692.7 596.9L693.7 597.0L694.8 597.1L695.8 597.2L696.8 597.3L697.9 597.4L698.9 597.5L699.9 597.6L701.0 597.7L702.0 597.8L703.0 597.9L704.1 598.0L705.1 598.1L706.1 598.2L707.2 598.3L708.2 598.4L709.2 598.5L710.3 598.6L711.3 598.7L712.3 598.8L713.4 598.9L714.4 599.0L715.4 599.1L716.5 599.3L717.5 599.4L718.5 599.5L719.5 599.6L720.6 599.8L721.6 599.9L722.6 600.1L723.6 600.2L724.7 600.4L725.7 600.6L726.7 600.7L727.7 600.9L728.8 601.0L729.8 601.2L730.8 601.3L731.9 601.4L732.9 601.6L733.9 601.7L734.9 601.8L736.0 601.9L737.0 602.1L738.0 602.2L739.1 602.3L740.1 602.4L741.1 602.5L742.2 602.7L743.2 602.8L744.2 602.9L745.3 603.0L746.3 603.1L747.3 603.2L748.3 603.3L749.4 603.4L750.4 603.5L751.4 603.6L752.5 603.7L753.5 603.9L754.5 604.0L755.6 604.1L756.6 604.2L757.6 604.3L758.7 604.4L759.7 604.5L760.7 604.6L761.8 604.7L762.8 604.8L763.8 604.8L764.9 604.9L765.9 605.0L766.9 605.1L768.0 605.2L769.0 605.3L770.0 605.4L771.1 605.5L772.1 605.6L773.1 605.7L774.2 605.8L775.2 605.8L776.2 605.9L777.3 606.0L778.3 606.1L779.3 606.2L780.4 606.3L781.4 606.4L782.4 606.4L783.5 606.5L784.5 606.6L785.5 606.7L786.6 606.8L787.6 606.9L788.6 607.0L789.7 607.0L790.7 607.1L791.7 607.2L792.8 607.3L793.8 607.4L794.8 607.4L795.9 607.5L796.9 607.6L798.0 607.7L799.0 607.8L800.0 607.9L801.1 607.9L802.1 608.0L803.1 608.1L804.2 608.2L805.2 608.2L806.2 608.3L807.3 608.4L808.3 608.5L809.3 608.6L810.4 608.6L811.4 608.7L812.4 608.8L813.5 608.9L814.5 608.9L815.5 609.0L816.6 609.1L817.6 609.2L818.6 609.2L819.7 609.3L820.7 609.4L821.7 609.5L822.8 609.5L823.8 609.6L824.8 609.7L825.9 609.8L826.9 609.9L828.0 609.9L829.0 610.0L830.0 610.1L831.1 610.1L832.1 610.2L833.1 610.3L834.2 610.4L835.2 610.4L836.2 610.5L837.3 610.6L838.3 610.6L839.3 610.7L840.4 610.8L841.4 610.8L842.4 610.9L843.5 611.0L844.5 611.0L845.6 611.1L846.6 611.1L847.6 611.2L848.7 611.3L849.7 611.3L850.7 611.4L851.8 611.4L852.8 611.5L853.8 611.5L854.9 611.6L855.9 611.6L856.9 611.7L858.0 611.7L859.0 611.8L860.1 611.9L861.1 611.9L862.1 612.0L863.2 612.0L864.2 612.1L865.2 612.1L866.3 612.2L867.3 612.2L868.3 612.3L869.4 612.3L870.4 612.4L871.5 612.4L872.5 612.5L873.5 612.5L874.6 612.6L875.6 612.6L876.6 612.7L877.7 612.7L878.7 612.8L879.7 612.9L880.8 612.9L881.8 613.0L882.8 613.0L883.9 613.1L884.9 613.1L886.0 613.2L887.0 613.2L888.0 613.3L889.1 613.3L890.1 613.4L891.1 613.4L892.2 613.5L893.2 613.5L894.2 613.6L895.3 613.6L896.3 613.7L897.4 613.7L898.4 613.8L899.4 613.8L900.5 613.8L901.5 613.9L902.5 613.9L903.6 614.0L904.6 614.0L905.6 614.0L906.7 614.1L907.7 614.1L908.8 614.1L909.8 614.2L910.8 614.2L911.9 614.2L912.9 614.3L913.9 614.3L915.0 614.3L916.0 614.4L917.1 614.4L918.1 614.4L919.1 614.4L920.2 614.5L921.2 614.5" stroke="#000" stroke-dasharray="3.1 9.3 21.7 9.3"/>
<path d="M89.0 40.0L89.0 41.0L89.1 42.1L89.1 43.1L89.2 44.1L89.2 45.2L89.3 46.2L89.3 47.3L89.4 48.3L89.4 49.3L89.5 50.4L89.5 51.4L89.6 52.4L89.6 53.5L89.7 54.5L89.7 55.5L89.8 56.6L89.8 57.6L89.9 58.7L89.9 59.7L90.0 60.7L90.0 61.8L90.1 62.8L90.1 63.8L90.2 64.9L90.2 65.9L90.3 66.9L90.3 68.0L90.4 69.0L90.4 70.1L90.5 71.1L90.5 72.1L90.6 73.2L90.6 74.2L90.7 75.2L90.7 76.3L90.8 77.3L90.8 78.3L90.8 79.4L90.9 80.4L90.9 81.5L91.0 82.5L91.0 83.5L91.1 84.6L91.1 85.6L91.2 86.6L91.2 87.7L91.3 88.7L91.3 89.7L91.4 90.8L91.4 91.8L91.5 92.8L91.5 93.9L91.6 94.9L91.6 96.0L91.7 97.0L91.7 98.0L91.8 99.1L91.8 100.1L91.8 101.1L91.9 102.2L91.9 103.2L92.0 104.2L92.0 105.3L92.1 106.3L92.1 107.4L92.2 108.4L92.2 109.4L92.3 110.5L92.3 111.5L92.4 112.5L92.4 113.6L92.5 114.6L92.5 115.6L92.6 116.7L92.6 117.7L92.6 118.8L92.7 119.8L92.7 120.8L92.8 121.9L92.8 122.9L92.9 123.9L92.9 125.0L93.0 126.0L93.0 127.0L93.1 128.1L93.1 129.1L93.2 130.2L93.2 131.2L93.3 132.2L93.3 133.3L93.3 134.3L93.4 135.3L93.4 136.4L93.5 137.4L93.5 138.4L93.6 139.5L93.6 140.5L93.7 141.6L93.7 142.6L93.8 143.6L93.8 144.7L93.9 145.7L93.9 146.7L93.9 147.8L94.0 148.8L94.0 149.8L94.1 150.9L94.1 151.9L94.2 153.0L94.2 154.0L94.2 155.0L94.3 156.1L94.3 157.1L94.4 158.1L94.4 159.2L94.5 160.2L94.5 161.2L94.6 162.3L94.6 163.3L94.6 164.4L94.7 165.4L94.7 166.4L94.8 167.5L94.8 168.5L94.9 169.5L94.9 170.6L94.9 171.6L95.0 172.7L95.0 173.7L95.1 174.7L95.1 175.8L95.2 176.8L95.2 177.8L95.3 178.9L95.3 179.9L95.3 180.9L95.4 182.0L95.4 183.0L95.5 184.1L95.5 185.1L95.6 186.1L95.6 187.2L95.7 188.2L95.7 189.2L95.8 190.3L95.8 191.3L95.8 192.3L95.9 193.4L95.9 194.4L96.0 195.5L96.0 196.5L96.1 197.5L96.1 198.6L96.2 199.6L96.2 200.6L96.3 201.7L96.3 202.7L96.4 203.7L96.4 204.8L96.5 205.8L96.5 206.8L96.6 207.9L96.6 208.9L96.7 210.0L96.7 211.0L96.8 212.0L96.8 213.1L96.9 214.1L96.9 215.1L97.0 216.2L97.0 217.2L97.1 218.2L97.1 219.3L97.2 220.3L97.3 221.4L97.3 222.4L97.4 223.4L97.4 224.5L97.5 225.5L97.5 226.5L97.6 227.6L97.6 228.6L97.7 229.6L97.7 230.7L97.8 231.7L97.9 232.8L97.9 233.8L98.0 234.8L98.0 235.9L98.1 236.9L98.1 237.9L98.2 239.0L98.2 240.0L98.3 241.0L98.4 242.1L98.4 243.1L98.5 244.1L98.5 245.2L98.6 246.2L98.6 247.3L98.7 248.3L98.8 249.3L98.8 250.4L98.9 251.4L98.9 252.4L99.0 253.5L99.1 254.5L99.1 255.5L99.2 256.6L99.2 257.6L99.3 258.6L99.4 259.7L99.4 260.7L99.5 261.8L99.6 262.8L99.6 263.8L99.7 264.9L99.8 265.9L99.8 266.9L99.9 268.0L100.0 269.0L100.0 270.0L100.1 271.1L100.1 272.1L100.2 273.1L100.3 274.2L100.3 275.2L100.4 276.2L100.5 277.3L100.5 278.3L100.6 279.4L100.7 280.4L100.7 281.4L100.8 282.5L100.9 283.5L100.9 284.5L101.0 285.6L101.1 286.6L101.1 287.6L101.2 288.7L101.3 289.7L101.3 290.7L101.4 291.8L101.5 292.8L101.5 293.8L101.6 294.9L101.7 295.9L101.7 297.0L101.8 298.0L101.8 299.0L101.9 300.1L102.0 301.1L102.0 302.1L102.1 303.2L102.1 304.2L102.2 305.2L102.3 306.3L102.3 307.3L102.4 308.3L102.4 309.4L102.5 310.4L102.5 311.5L102.6 312.5L102.6 313.5L102.7 314.6L102.7 315.6L102.8 316.6L102.8 317.7L102.9 318.7L102.9 319.8L103.0 320.8L103.0 321.8L103.1 322.9L103.1 323.9L103.1 324.9L103.2 326.0L103.2 327.0L103.3 328.1L103.3 329.1L103.4 330.1L103.4 331.2L103.5 332.2L103.5 333.2L103.6 334.3L103.7 335.3L103.7 336.4L103.8 337.4L103.8 338.4L103.9 339.5L103.9 340.5L104.0 341.5L104.0 342.6L104.1 343.6L104.2 344.6L104.2 345.7L104.3 346.7L104.4 347.7L104.4 348.8L104.5 349.8L104.6 350.8L104.7 351.9L104.7 352.9L104.8 353.9L104.9 355.0L105.0 356.0L105.0 357.0L105.1 358.1L105.2 359.1L105.3 360.1L105.4 361.2L105.5 362.2L105.6 363.2L105.8 364.2L105.9 365.3L106.0 366.3L106.2 367.3L106.4 368.4L106.5 369.4L106.7 370.4L106.8 371.4L107.0 372.5L107.2 373.5L107.3 374.5L107.5 375.5L107.7 376.6L107.8 377.6L108.0 378.6L108.1 379.6L108.3 380.7L108.4 381.7L108.6 382.7L108.7 383.7L108.9 384.8L109.0 385.8L109.1 386.8L109.3 387.9L109.4 388.9L109.6 389.9L109.7 390.9L109.8 392.0L110.0 393.0L110.1 394.0L110.3 395.1L110.4 396.1L110.6 397.1L110.7 398.1L110.9 399.2L111.0 400.2L111.2 401.2L111.4 402.2L111.5 403.3L111.7 404.3L111.9 405.3L112.0 406.3L112.2 407.4L112.4 408.4L112.5 409.4L112.7 410.4L112.9 411.5L113.1 412.5L113.3 413.5L113.5 414.5L113.7 415.5L113.9 416.5L114.1 417.6L114.3 418.6L114.5 419.6L114.7 420.6L115.0 421.6L115.2 422.6L115.4 423.6L115.7 424.6L116.0 425.6L116.2 426.6L116.5 427.6L116.8 428.6L117.1 429.6L117.3 430.6L117.6 431.6L117.9 432.6L118.2 433.6L118.5 434.6L118.8 435.6L119.1 436.6L119.4 437.6L119.8 438.6L120.1 439.6L120.4 440.6L120.7 441.6L121.0 442.5L121.3 443.5L121.6 444.5L122.0 445.5L122.3 446.5L122.6 447.5L122.9 448.5L123.3 449.5L123.6 450.5L124.0 451.5L124.3 452.5L124.7 453.5L125.0 454.4L125.4 455.4L125.8 456.4L126.2 457.3L126.6 458.3L127.0 459.2L127.4 460.2L127.8 461.1L128.2 462.0L128.7 462.9L129.1 463.8L129.6 464.8L130.1 465.7L130.6 466.6L131.2 467.5L131.7 468.4L132.3 469.3L132.8 470.1L133.4 471.0L134.0 471.9L134.7 472.7L135.3 473.6L135.9 474.4L136.6 475.2L137.2 476.0L137.9 476.8L138.6 477.6L139.3 478.3L140.0 479.0L140.7 479.7L141.5 480.4L142.2 481.1L143.0 481.8L143.8 482.4L144.7 483.1L145.5 483.7L146.3 484.4L147.2 485.0L148.0 485.6L148.9 486.2L149.8 486.8L150.6 487.4L151.5 488.0L152.3 488.6L153.2 489.1L154.0 489.7L154.9 490.3L155.8 490.8L156.7 491.4L157.6 491.9L158.5 492.4L159.4 493.0L160.3 493.5L161.2 494.0L162.1 494.5L163.0 495.0L163.9 495.5L164.8 496.0L165.7 496.5L166.7 496.9L167.6 497.4L168.5 497.8L169.4 498.3L170.4 498.8L171.3 499.2L172.3 499.6L173.2 500.1L174.2 500.5L175.1 500.9L176.1 501.3L177.0 501.7L178.0 502.1L179.0 502.5L179.9 502.9L180.9 503.2L181.9 503.6L182.9 503.9L183.8 504.2L184.8 504.5L185.8 504.8L186.8 505.1L187.8 505.4L188.8 505.6L189.8 505.9L190.8 506.2L191.8 506.4L192.9 506.7L193.9 506.9L194.9 507.2L195.9 507.4L196.9 507.6L197.9 507.9L198.9 508.1L199.9 508.4L200.9 508.6L201.9 508.8L203.0 509.0L204.0 509.3L205.0 509.5L206.0 509.7L207.0 509.9L208.0 510.1L209.1 510.3L210.1 510.5L211.1 510.7L212.1 511.0L213.1 511.2L214.1 511.4L215.2 511.6L216.2 511.8L217.2 512.0L218.2 512.2L219.2 512.4L220.2 512.6L221.3 512.8L222.3 512.9L223.3 513.1L224.3 513.3L225.3 513.5L226.4 513.7L227.4 513.9L228.4 514.1L229.4 514.3L230.4 514.5L231.5 514.6L232.5 514.8L233.5 515.0L234.5 515.2L235.5 515.4L236.6 515.6L237.6 515.7L238.6 515.9L239.6 516.1L240.7 516.3L241.7 516.4L242.7 516.6L243.7 516.8L244.8 517.0L245.8 517.1L246.8 517.3L247.8 517.5L248.8 517.7L249.9 517.8L250.9 518.0L251.9 518.2L252.9 518.4L253.9 518.6L255.0 518.8L256.0 519.0L257.0 519.2L258.0 519.4L259.0 519.6L260.1 519.8L261.1 520.0L262.1 520.2L263.1 520.4L264.1 520.6L265.1 520.8L266.1 521.0L267.2 521.2L268.2 521.5L269.2 521.7L270.2 521.9L271.2 522.1L272.2 522.3L273.2 522.6L274.3 522.8L275.3 523.0L276.3 523.2L277.3 523.4L278.3 523.7L279.3 523.9L280.3 524.1L281.4 524.3L282.4 524.6L283.4 524.8L284.4 525.0L285.4 525.3L286.4 525.5L287.4 525.7L288.4 525.9L289.5 526.2L290.5 526.4L291.5 526.6L292.5 526.8L293.5 527.1L294.5 527.3L295.5 527.5L296.5 527.7L297.6 528.0L298.6 528.2L299.6 528.4L300.6 528.6L301.6 528.9L302.6 529.1L303.6 529.3L304.6 529.6L305.7 529.8L306.7 530.0L307.7 530.2L308.7 530.5L309.7 530.7L310.7 530.9L311.7 531.2L312.7 531.4L313.7 531.6L314.8 531.9L315.8 532.1L316.8 532.3L317.8 532.6L318.8 532.8L319.8 533.0L320.8 533.3L321.8 533.5L322.8 533.7L323.9 533.9L324.9 534.2L325.9 534.4L326.9 534.6L327.9 534.9L328.9 535.1L329.9 535.3L330.9 535.6L331.9 535.8L333.0 536.0L334.0 536.3L335.0 536.5L336.0 536.7L337.0 537.0L338.0 537.2L339.0 537.4L340.0 537.7L341.0 537.9L342.1 538.1L343.1 538.4L344.1 538.6L345.1 538.8L346.1 539.1L347.1 539.3L348.1 539.5L349.1 539.8L350.1 540.0L351.2 540.2L352.2 540.5L353.2 540.7L354.2 540.9L355.2 541.2L356.2 541.4L357.2 541.6L358.2 541.9L359.2 542.1L360.2 542.3L361.3 542.6L362.3 542.8L363.3 543.0L364.3 543.3L365.3 543.5L366.3 543.7L367.3 544.0L368.3 544.2L369.3 544.4L370.4 544.6L371.4 544.9L372.4 545.1L373.4 545.3L374.4 545.6L375.4 545.8L376.4 546.0L377.4 546.2L378.5 546.4L379.5 546.7L380.5 546.9L381.5 547.1L382.5 547.3L383.5 547.5L384.5 547.8L385.6 548.0L386.6 548.2L387.6 548.4L388.6 548.6L389.6 548.8L390.6 549.1L391.6 549.3L392.7 549.5L393.7 549.7L394.7 549.9L395.7 550.1L396.7 550.3L397.7 550.6L398.8 550.8L399.8 551.0L400.8 551.2L401.8 551.4L402.8 551.6L403.8 551.8L404.9 552.0L405.9 552.2L406.9 552.4L407.9 552.6L408.9 552.8L409.9 553.1L411.0 553.3L412.0 553.5L413.0 553.7L414.0 553.9L415.0 554.1L416.0 554.3L417.1 554.5L418.1 554.7L419.1 554.9L420.1 555.1L421.1 555.3L422.1 555.5L423.2 555.7L424.2 555.9L425.2 556.1L426.2 556.3L427.2 556.5L428.3 556.7L429.3 556.9L430.3 557.1L431.3 557.3L432.3 557.5L433.3 557.7L434.4 557.9L435.4 558.0L436.4 558.2L437.4 558.4L438.4 558.6L439.5 558.8L440.5 559.0L441.5 559.2L442.5 559.4L443.5 559.6L444.6 559.8L445.6 560.0L446.6 560.2L447.6 560.3L448.6 560.5L449.7 560.7L450.7 560.9L451.7 561.1L452.7 561.3L453.7 561.5L454.8 561.7L455.8 561.9L456.8 562.0L457.8 562.2L458.8 562.4L459.9 562.6L460.9 562.8L461.9 563.0L462.9 563.2L463.9 563.3L465.0 563.5L466.0 563.7L467.0 563.9L468.0 564.1L469.1 564.2L470.1 564.4L471.1 564.6L472.1 564.8L473.1 564.9L474.2 565.1L475.2 565.3L476.2 565.5L477.2 565.6L478.3 565.8L479.3 566.0L480.3 566.1L481.3 566.3L482.4 566.5L483.4 566.6L484.4 566.8L485.4 567.0L486.4 567.2L487.5 567.3L488.5 567.5L489.5 567.7L490.5 567.9L491.6 568.0L492.6 568.2L493.6 568.4L494.6 568.6L495.6 568.8L496.7 569.0L497.7 569.2L498.7 569.3L499.7 569.5L500.7 569.7L501.8 570.0L502.8 570.2L503.8 570.4L504.8 570.6L505.8 570.8L506.8 571.0L507.8 571.3L508.8 571.5L509.9 571.7L510.9 572.0L511.9 572.2L512.9 572.4L513.9 572.7L514.9 572.9L515.9 573.1L516.9 573.3L518.0 573.6L519.0 573.8L520.0 574.0L521.0 574.2L522.0 574.4L523.0 574.6L524.1 574.8L525.1 575.0L526.1 575.2L527.1 575.4L528.1 575.6L529.1 575.8L530.2 576.0L531.2 576.2L532.2 576.4L533.2 576.5L534.2 576.7L535.3 576.9L536.3 577.1L537.3 577.3L538.3 577.4L539.4 577.6L540.4 577.8L541.4 578.0L542.4 578.1L543.5 578.3L544.5 578.4L545.5 578.6L546.5 578.8L547.6 578.9L548.6 579.1L549.6 579.2L550.6 579.3L551.7 579.5L552.7 579.6L553.7 579.8L554.7 579.9L555.8 580.0L556.8 580.2L557.8 580.3L558.9 580.5L559.9 580.6L560.9 580.7L561.9 580.9L563.0 581.0L564.0 581.1L565.0 581.3L566.1 581.4L567.1 581.6L568.1 581.7L569.1 581.8L570.2 582.0L571.2 582.1L572.2 582.2L573.3 582.4L574.3 582.5L575.3 582.6L576.3 582.8L577.4 582.9L578.4 583.0L579.4 583.2L580.5 583.3L581.5 583.4L582.5 583.6L583.5 583.7L584.6 583.8L585.6 584.0L586.6 584.1L587.7 584.2L588.7 584.4L589.7 584.5L590.7 584.6L591.8 584.8L592.8 584.9L593.8 585.0L594.9 585.2L595.9 585.3L596.9 585.4L598.0 585.6L599.0 585.7L600.0 585.8L601.0 586.0L602.1 586.1L603.1 586.2L604.1 586.4L605.2 586.5L606.2 586.6L607.2 586.8L608.2 586.9L609.3 587.1L610.3 587.2L611.3 587.4L612.3 587.5L613.4 587.7L614.4 587.8L615.4 588.0L616.5 588.1L617.5 588.3L618.5 588.4L619.5 588.6L620.6 588.7L621.6 588.8L622.6 589.0L623.6 589.1L624.7 589.3L625.7 589.4L626.7 589.5L627.8 589.7L628.8 589.8L629.8 589.9L630.8 590.0L631.9 590.2L632.9 590.3L633.9 590.4L635.0 590.5L636.0 590.6L637.0 590.7L638.1 590.8L639.1 590.9L640.1 591.0L641.2 591.1L642.2 591.2L643.2 591.4L644.3 591.5L645.3 591.6L646.3 591.7L647.4 591.8L648.4 591.9L649.4 592.0L650.4 592.1L651.5 592.2L652.5 592.4L653.5 592.5L654.6 592.6L655.6 592.7L656.6 592.9L657.7 593.0L658.7 593.1L659.7 593.3L660.7 593.4L661.8 593.5L662.8 593.6L663.8 593.8L664.9 593.9L665.9 594.0L666.9 594.1L668.0 594.3L669.0 594.4L670.0 594.5L671.0 594.6L672.1 594.7L673.1 594.9L674.1 595.0L675.2 595.1L676.2 595.2L677.2 595.3L678.3 595.4L679.3 595.5L680.3 595.6L681.4 595.7L682.4 595.8L683.4 595.9L684.5 596.0L685.5 596.1L686.5 596.2L687.6 596.3L688.6 596.4L689.6 596.5L690.6 596.6L691.7 596.8L692.7 596.9L693.7 597.0L694.8 597.1L695.8 597.2L696.8 597.3L697.9 597.4L698.9 597.5L699.9 597.6L701.0 597.7L702.0 597.8L703.0 597.9L704.1 598.0L705.1 598.1L706.1 598.2L707.2 598.3L708.2 598.4L709.2 598.5L710.3 598.6L711.3 598.7L712.3 598.8L713.4 598.9L714.4 599.0L715.4 599.1L716.5 599.3L717.5 599.4L718.5 599.5L719.5 599.6L720.6 599.8L721.6 599.9L722.6 600.1L723.6 600.2L724.7 600.4L725.7 600.6L726.7 600.7L727.7 600.9L728.8 601.0L729.8 601.2L730.8 601.3L731.9 601.4L732.9 601.6L733.9 601.7L734.9 601.8L736.0 601.9L737.0 602.1L738.0 602.2L739.1 602.3L740.1 602.4L741.1 602.5L742.2 602.7L743.2 602.8L744.2 602.9L745.3 603.0L746.3 603.1L747.3 603.2L748.3 603.3L749.4 603.4L750.4 603.5L751.4 603.6L752.5 603.7L753.5 603.9L754.5 604.0L755.6 604.1L756.6 604.2L757.6 604.3L758.7 604.4L759.7 604.5L760.7 604.6L761.8 604.7L762.8 604.8L763.8 604.8L764.9 604.9L765.9 605.0L766.9 605.1L768.0 605.2L769.0 605.3L770.0 605.4L771.1 605.5L772.1 605.6L773.1 605.7L774.2 605.8L775.2 605.8L776.2 605.9L777.3 606.0L778.3 606.1L779.3 606.2L780.4 606.3L781.4 606.4L782.4 606.4L783.5 606.5L784.5 606.6L785.5 606.7L786.6 606.8L787.6 606.9L788.6 607.0L789.7 607.0L790.7 607.1L791.7 607.2L792.8 607.3L793.8 607.4L794.8 607.4L795.9 607.5L796.9 607.6L798.0 607.7L799.0 607.8L800.0 607.9L801.1 607.9L802.1 608.0L803.1 608.1L804.2 608.2L805.2 608.2L806.2 608.3L807.3 608.4L808.3 608.5L809.3 608.6L810.4 608.6L811.4 608.7L812.4 608.8L813.5 608.9L814.5 608.9L815.5 609.0L816.6 609.1L817.6 609.2L818.6 609.2L819.7 609.3L820.7 609.4L821.7 609.5L822.8 609.5L823.8 609.6L824.8 609.7L825.9 609.8L826.9 609.9L828.0 609.9L829.0 610.0L830.0 610.1L831.1 610.1L832.1 610.2L833.1 610.3L834.2 610.4L835.2 610.4L836.2 610.5L837.3 610.6L838.3 610.6L839.3 610.7L840.4 610.8L841.4 610.8L842.4 610.9L843.5 611.0L844.5 611.0L845.6 611.1L846.6 611.1L847.6 611.2L848.7 611.3L849.7 611.3L850.7 611.4L851.8 611.4L852.8 611.5L853.8 611.5L854.9 611.6L855.9 611.6L856.9 611.7L858.0 611.7L859.0 611.8L860.1 611.9L861.1 611.9L862.1 612.0L863.2 612.0L864.2 612.1L865.2 612.1L866.3 612.2L867.3 612.2L868.3 612.3L869.4 612.3L870.4 612.4L871.5 612.4L872.5 612.5L873.5 612.5L874.6 612.6L875.6 612.6L876.6 612.7L877.7 612.7L878.7 612.8L879.7 612.9L880.8 612.9L881.8 613.0L882.8 613.0L883.9 613.1L884.9 613.1L886.0 613.2L887.0 613.2L888.0 613.3L889.1 613.3L890.1 613.4L891.1 613.4L892.2 613.5L893.2 613.5L894.2 613.6L895.3 613.6L896.3 613.7L897.4 613.7L898.4 613.8L899.4 613.8L900.5 613.8L901.5 613.9L902.5 613.9L903.6 614.0L904.6 614.0L905.6 614.0L906.7 614.1L907.7 614.1L908.8 614.1L909.8 614.2L910.8 614.2L911.9 614.2L912.9 614.3L913.9 614.3L915.0 614.3L916.0 614.4L917.1 614.4L918.1 614.4L919.1 614.4L920.2 614.5L921.2 614.5" stroke="#ff0000" stroke-dasharray="15.7 8.6"/>
<path d="M89.0 40.0L89.0 41.0L89.1 42.1L89.1 43.1L89.2 44.2L89.2 45.2L89.3 46.3L89.3 47.3L89.4 48.4L89.4 49.4L89.5 50.4L89.5 51.5L89.6 52.5L89.6 53.6L89.7 54.6L89.7 55.7L89.8 56.7L89.8 57.8L89.9 58.8L89.9 59.9L90.0 60.9L90.0 61.9L90.1 63.0L90.1 64.0L90.2 65.1L90.2 66.1L90.3 67.2L90.3 68.2L90.4 69.3L90.4 70.3L90.5 71.3L90.5 72.4L90.5 73.4L90.6 74.5L90.6 75.5L90.7 76.6L90.7 77.6L90.8 78.7L90.8 79.7L90.9 80.8L90.9 81.8L91.0 82.8L91.0 83.9L91.1 84.9L91.1 86.0L91.2 87.0L91.2 88.1L91.3 89.1L91.3 90.2L91.4 91.2L91.4 92.3L91.4 93.3L91.5 94.3L91.5 95.4L91.6 96.4L91.6 97.5L91.7 98.5L91.7 99.6L91.8 100.6L91.8 101.7L91.9 102.7L91.9 103.7L92.0 104.8L92.0 105.8L92.1 106.9L92.1 107.9L92.1 109.0L92.2 110.0L92.2 111.1L92.3 112.1L92.3 113.2L92.4 114.2L92.4 115.2L92.5 116.3L92.5 117.3L92.6 118.4L92.6 119.4L92.7 120.5L92.7 121.5L92.7 122.6L92.8 123.6L92.8 124.6L92.9 125.7L92.9 126.7L93.0 127.8L93.0 128.8L93.1 129.9L93.1 130.9L93.2 132.0L93.2 133.0L93.2 134.1L93.3 135.1L93.3 136.1L93.4 137.2L93.4 138.2L93.5 139.3L93.5 140.3L93.6 141.4L93.6 142.4L93.6 143.5L93.7 144.5L93.7 145.6L93.8 146.6L93.8 147.6L93.9 148.7L93.9 149.7L94.0 150.8L94.0 151.8L94.0 152.9L94.1 153.9L94.1 155.0L94.2 156.0L94.2 157.0L94.3 158.1L94.3 159.1L94.3 160.2L94.4 161.2L94.4 162.3L94.5 163.3L94.5 164.4L94.5 165.4L94.6 166.5L94.6 167.5L94.7 168.5L94.7 169.6L94.8 170.6L94.8 171.7L94.8 172.7L94.9 173.8L94.9 174.8L95.0 175.9L95.0 176.9L95.1 178.0L95.1 179.0L95.1 180.0L95.2 181.1L95.2 182.1L95.3 183.2L95.3 184.2L95.4 185.3L95.4 186.3L95.4 187.4L95.5 188.4L95.5 189.5L95.6 190.5L95.6 191.5L95.7 192.6L95.7 193.6L95.8 194.7L95.8 195.7L95.9 196.8L95.9 197.8L95.9 198.9L96.0 199.9L96.0 200.9L96.1 202.0L96.1 203.0L96.2 204.1L96.2 205.1L96.3 206.2L96.3 207.2L96.4 208.3L96.4 209.3L96.5 210.4L96.5 211.4L96.6 212.4L96.6 213.5L96.7 214.5L96.7 215.6L96.8 216.6L96.8 217.7L96.9 218.7L96.9 219.8L97.0 220.8L97.0 221.8L97.1 222.9L97.1 223.9L97.2 225.0L97.2 226.0L97.3 227.1L97.4 228.1L97.4 229.2L97.5 230.2L97.5 231.2L97.6 232.3L97.6 233.3L97.7 234.4L97.7 235.4L97.8 236.5L97.8 237.5L97.9 238.6L97.9 239.6L98.0 240.7L98.1 241.7L98.1 242.7L98.2 243.8L98.2 244.8L98.3 245.9L98.3 246.9L98.4 248.0L98.4 249.0L98.5 250.1L98.6 251.1L98.6 252.1L98.7 253.2L98.7 254.2L98.8 255.3L98.9 256.3L98.9 257.4L99.0 258.4L99.0 259.5L99.1 260.5L99.2 261.5L99.2 262.6L99.3 263.6L99.3 264.7L99.4 265.7L99.5 266.8L99.5 267.8L99.6 268.9L99.7 269.9L99.7 270.9L99.8 272.0L99.9 273.0L99.9 274.1L100.0 275.1L100.1 276.2L100.1 277.2L100.2 278.2L100.2 279.3L100.3 280.3L100.4 281.4L100.4 282.4L100.5 283.5L100.6 284.5L100.6 285.6L100.7 286.6L100.8 287.6L100.8 288.7L100.9 289.7L101.0 290.8L101.0 291.8L101.1 292.9L101.1 293.9L101.2 295.0L101.3 296.0L101.3 297.0L101.4 298.1L101.4 299.1L101.5 300.2L101.6 301.2L101.6 302.3L101.7 303.3L101.7 304.4L101.8 305.4L101.8 306.4L101.9 307.5L102.0 308.5L102.0 309.6L102.1 310.6L102.1 311.7L102.2 312.7L102.2 313.8L102.3 314.8L102.3 315.9L102.4 316.9L102.4 317.9L102.5 319.0L102.5 320.0L102.5 321.1L102.6 322.1L102.6 323.2L102.7 324.2L102.7 325.3L102.8 326.3L102.8 327.4L102.9 328.4L102.9 329.5L103.0 330.5L103.0 331.5L103.1 332.6L103.1 333.6L103.2 334.7L103.2 335.7L103.3 336.8L103.3 337.8L103.4 338.9L103.5 339.9L103.5 340.9L103.6 342.0L103.6 343.0L103.7 344.1L103.8 345.1L103.8 346.2L103.9 347.2L103.9 348.3L104.0 349.3L104.1 350.3L104.2 351.4L104.2 352.4L104.3 353.5L104.4 354.5L104.4 355.6L104.5 356.6L104.6 357.6L104.7 358.7L104.8 359.7L104.9 360.8L105.0 361.8L105.1 362.8L105.2 363.9L105.3 364.9L105.4 366.0L105.6 367.0L105.7 368.0L105.9 369.1L106.0 370.1L106.1 371.1L106.3 372.2L106.4 373.2L106.6 374.2L106.7 375.3L106.9 376.3L107.0 377.4L107.2 378.4L107.3 379.4L107.5 380.5L107.6 381.5L107.7 382.5L107.9 383.6L108.0 384.6L108.1 385.7L108.2 386.7L108.4 387.7L108.5 388.8L108.6 389.8L108.8 390.8L108.9 391.9L109.0 392.9L109.2 394.0L109.3 395.0L109.4 396.0L109.6 397.1L109.7 398.1L109.9 399.1L110.0 400.2L110.2 401.2L110.3 402.2L110.5 403.3L110.6 404.3L110.8 405.3L111.0 406.4L111.1 407.4L111.3 408.5L111.4 409.5L111.6 410.5L111.8 411.6L112.0 412.6L112.1 413.6L112.3 414.6L112.5 415.7L112.7 416.7L112.9 417.7L113.1 418.8L113.3 419.8L113.5 420.8L113.7 421.8L113.9 422.9L114.1 423.9L114.3 424.9L114.5 425.9L114.8 426.9L115.0 428.0L115.3 429.0L115.5 430.0L115.7 431.0L116.0 432.0L116.2 433.1L116.5 434.1L116.8 435.1L117.0 436.1L117.3 437.1L117.5 438.1L117.8 439.1L118.0 440.2L118.3 441.2L118.5 442.2L118.8 443.2L119.0 444.2L119.3 445.3L119.5 446.3L119.8 447.3L120.0 448.3L120.3 449.3L120.6 450.4L120.8 451.4L121.1 452.4L121.4 453.4L121.6 454.4L121.9 455.4L122.2 456.4L122.5 457.4L122.9 458.4L123.2 459.4L123.5 460.3L123.9 461.3L124.3 462.3L124.7 463.2L125.1 464.2L125.5 465.2L126.0 466.1L126.5 467.1L126.9 468.0L127.4 469.0L127.9 469.9L128.5 470.8L129.0 471.7L129.5 472.6L130.1 473.5L130.6 474.4L131.2 475.2L131.8 476.1L132.4 476.9L133.0 477.7L133.6 478.6L134.3 479.4L135.0 480.2L135.6 481.0L136.3 481.8L137.1 482.5L137.8 483.3L138.5 484.1L139.3 484.8L140.0 485.6L140.8 486.3L141.5 487.1L142.3 487.8L143.0 488.5L143.8 489.2L144.6 489.9L145.3 490.6L146.1 491.3L146.9 492.0L147.7 492.7L148.5 493.3L149.3 494.0L150.1 494.7L151.0 495.3L151.8 495.9L152.6 496.6L153.5 497.2L154.3 497.8L155.2 498.5L156.0 499.1L156.9 499.7L157.7 500.3L158.6 500.9L159.4 501.5L160.3 502.1L161.1 502.7L162.0 503.3L162.9 503.9L163.8 504.5L164.6 505.1L165.5 505.6L166.4 506.2L167.3 506.7L168.2 507.3L169.1 507.8L170.0 508.3L170.9 508.8L171.8 509.3L172.8 509.7L173.7 510.2L174.6 510.6L175.6 511.1L176.6 511.5L177.5 511.9L178.5 512.3L179.5 512.7L180.4 513.1L181.4 513.5L182.4 513.8L183.4 514.2L184.4 514.5L185.4 514.9L186.4 515.2L187.4 515.5L188.4 515.8L189.4 516.1L190.4 516.3L191.4 516.6L192.4 516.8L193.4 517.1L194.5 517.3L195.5 517.5L196.5 517.8L197.5 518.0L198.5 518.2L199.6 518.5L200.6 518.8L201.6 519.0L202.6 519.3L203.6 519.6L204.6 519.8L205.6 520.1L206.6 520.4L207.6 520.7L208.6 521.0L209.6 521.3L210.7 521.6L211.7 521.9L212.7 522.1L213.7 522.4L214.7 522.7L215.7 523.0L216.7 523.3L217.7 523.6L218.7 523.9L219.7 524.1L220.7 524.4L221.7 524.7L222.7 525.0L223.8 525.2L224.8 525.5L225.8 525.8L226.8 526.1L227.8 526.3L228.8 526.6L229.8 526.9L230.8 527.2L231.8 527.5L232.8 527.8L233.8 528.1L234.8 528.4L235.8 528.7L236.8 529.0L237.8 529.3L238.8 529.6L239.8 529.9L240.8 530.2L241.8 530.6L242.8 530.9L243.8 531.2L244.8 531.5L245.8 531.8L246.8 532.2L247.8 532.5L248.8 532.8L249.8 533.1L250.8 533.4L251.8 533.7L252.8 534.0L253.8 534.3L254.8 534.7L255.8 535.0L256.8 535.3L257.8 535.6L258.8 535.9L259.8 536.2L260.8 536.4L261.8 536.7L262.8 537.0L263.8 537.3L264.8 537.6L265.8 537.9L266.8 538.2L267.8 538.5L268.8 538.8L269.8 539.1L270.8 539.4L271.8 539.7L272.8 540.0L273.8 540.3L274.9 540.5L275.9 540.8L276.9 541.1L277.9 541.4L278.9 541.7L279.9 542.0L280.9 542.3L281.9 542.6L282.9 542.8L283.9 543.1L284.9 543.4L285.9 543.7L286.9 544.0L287.9 544.3L288.9 544.6L289.9 544.8L291.0 545.1L292.0 545.4L293.0 545.7L294.0 546.0L295.0 546.3L296.0 546.5L297.0 546.8L298.0 547.1L299.0 547.4L300.0 547.7L301.0 548.0L302.0 548.3L303.0 548.5L304.0 548.8L305.0 549.1L306.1 549.4L307.1 549.7L308.1 550.0L309.1 550.3L310.1 550.5L311.1 550.8L312.1 551.1L313.1 551.4L314.1 551.7L315.1 552.0L316.1 552.3L317.1 552.5L318.1 552.8L319.1 553.1L320.2 553.4L321.2 553.7L322.2 553.9L323.2 554.2L324.2 554.5L325.2 554.8L326.2 555.0L327.2 555.3L328.2 555.6L329.2 555.8L330.3 556.1L331.3 556.4L332.3 556.6L333.3 556.9L334.3 557.1L335.3 557.4L336.3 557.7L337.3 557.9L338.4 558.2L339.4 558.4L340.4 558.7L341.4 558.9L342.4 559.2L343.4 559.4L344.5 559.6L345.5 559.9L346.5 560.1L347.5 560.3L348.5 560.6L349.6 560.8L350.6 561.0L351.6 561.3L352.6 561.5L353.6 561.7L354.7 561.9L355.7 562.2L356.7 562.4L357.7 562.6L358.7 562.8L359.8 563.1L360.8 563.3L361.8 563.5L362.8 563.7L363.9 563.9L364.9 564.2L365.9 564.4L366.9 564.6L368.0 564.8L369.0 565.0L370.0 565.3L371.0 565.5L372.0 565.7L373.1 565.9L374.1 566.2L375.1 566.4L376.1 566.6L377.2 566.8L378.2 567.1L379.2 567.3L380.2 567.5L381.2 567.8L382.3 568.0L383.3 568.2L384.3 568.5L385.3 568.7L386.3 568.9L387.4 569.2L388.4 569.4L389.4 569.7L390.4 569.9L391.4 570.1L392.4 570.4L393.5 570.6L394.5 570.9L395.5 571.1L396.5 571.4L397.5 571.6L398.5 571.9L399.6 572.1L400.6 572.3L401.6 572.6L402.6 572.8L403.6 573.1L404.7 573.3L405.7 573.6L406.7 573.8L407.7 574.0L408.7 574.3L409.7 574.5L410.8 574.7L411.8 575.0L412.8 575.2L413.8 575.4L414.8 575.7L415.9 575.9L416.9 576.1L417.9 576.3L418.9 576.5L420.0 576.7L421.0 577.0L422.0 577.2L423.0 577.4L424.1 577.6L425.1 577.8L426.1 578.0L427.1 578.2L428.2 578.4L429.2 578.6L430.2 578.8L431.2 579.0L432.3 579.1L433.3 579.3L434.3 579.5L435.4 579.7L436.4 579.9L437.4 580.1L438.4 580.3L439.5 580.5L440.5 580.6L441.5 580.8L442.6 581.0L443.6 581.2L444.6 581.4L445.7 581.6L446.7 581.7L447.7 581.9L448.8 582.1L449.8 582.3L450.8 582.4L451.9 582.6L452.9 582.8L453.9 583.0L454.9 583.1L456.0 583.3L457.0 583.5L458.0 583.7L459.1 583.8L460.1 584.0L461.1 584.2L462.2 584.4L463.2 584.5L464.2 584.7L465.3 584.9L466.3 585.0L467.3 585.2L468.4 585.4L469.4 585.6L470.4 585.7L471.5 585.9L472.5 586.0L473.5 586.2L474.6 586.4L475.6 586.5L476.6 586.7L477.7 586.8L478.7 587.0L479.7 587.2L480.8 587.3L481.8 587.5L482.8 587.6L483.9 587.8L484.9 587.9L485.9 588.1L487.0 588.3L488.0 588.4L489.0 588.6L490.1 588.7L491.1 588.9L492.1 589.1L493.2 589.2L494.2 589.4L495.2 589.6L496.3 589.8L497.3 589.9L498.3 590.1L499.4 590.3L500.4 590.5L501.4 590.7L502.4 590.9L503.5 591.0L504.5 591.3L505.5 591.5L506.6 591.7L507.6 591.9L508.6 592.1L509.6 592.3L510.6 592.5L511.7 592.7L512.7 592.9L513.7 593.2L514.7 593.4L515.8 593.6L516.8 593.8L517.8 594.0L518.8 594.2L519.9 594.4L520.9 594.6L521.9 594.8L523.0 595.0L524.0 595.2L525.0 595.4L526.0 595.5L527.1 595.7L528.1 595.9L529.1 596.1L530.2 596.3L531.2 596.5L532.2 596.7L533.3 596.8L534.3 597.0L535.3 597.2L536.4 597.4L537.4 597.5L538.4 597.7L539.4 597.9L540.5 598.0L541.5 598.2L542.5 598.3L543.6 598.5L544.6 598.7L545.7 598.8L546.7 598.9L547.7 599.1L548.8 599.2L549.8 599.4L550.8 599.5L551.9 599.6L552.9 599.8L553.9 599.9L555.0 600.0L556.0 600.2L557.1 600.3L558.1 600.4L559.1 600.6L560.2 600.7L561.2 600.8L562.3 600.9L563.3 601.1L564.3 601.2L565.4 601.3L566.4 601.4L567.4 601.6L568.5 601.7L569.5 601.8L570.6 601.9L571.6 602.1L572.6 602.2L573.7 602.3L574.7 602.4L575.8 602.6L576.8 602.7L577.8 602.8L578.9 602.9L579.9 603.0L581.0 603.1L582.0 603.3L583.0 603.4L584.1 603.5L585.1 603.6L586.2 603.7L587.2 603.9L588.2 604.0L589.3 604.1L590.3 604.2L591.3 604.3L592.4 604.5L593.4 604.6L594.5 604.7L595.5 604.8L596.5 604.9L597.6 605.0L598.6 605.2L599.7 605.3L600.7 605.4L601.7 605.5L602.8 605.6L603.8 605.7L604.9 605.8L605.9 606.0L606.9 606.1L608.0 606.2L609.0 606.3L610.1 606.4L611.1 606.5L612.1 606.6L613.2 606.7L614.2 606.8L615.3 606.9L616.3 607.0L617.4 607.1L618.4 607.2L619.4 607.3L620.5 607.4L621.5 607.5L622.6 607.6L623.6 607.7L624.6 607.8L625.7 607.9L626.7 608.0L627.8 608.1L628.8 608.2L629.8 608.3L630.9 608.4L631.9 608.5L633.0 608.6L634.0 608.7L635.1 608.9L636.1 609.0L637.1 609.1L638.2 609.2L639.2 609.3L640.3 609.4L641.3 609.5L642.3 609.6L643.4 609.8L644.4 609.9L645.5 610.0L646.5 610.1L647.5 610.2L648.6 610.3L649.6 610.4L650.7 610.4L651.7 610.5L652.7 610.6L653.8 610.7L654.8 610.8L655.9 610.8L656.9 610.9L658.0 611.0L659.0 611.0L660.1 611.1L661.1 611.2L662.1 611.3L663.2 611.3L664.2 611.4L665.3 611.5L666.3 611.5L667.4 611.6L668.4 611.7L669.4 611.7L670.5 611.8L671.5 611.9L672.6 612.0L673.6 612.0L674.7 612.1L675.7 612.2L676.7 612.3L677.8 612.4L678.8 612.5L679.9 612.5L680.9 612.6L682.0 612.7L683.0 612.8L684.0 612.9L685.1 613.0L686.1 613.1L687.2 613.1L688.2 613.2L689.3 613.3L690.3 613.4L691.3 613.5L692.4 613.5L693.4 613.6L694.5 613.7L695.5 613.8L696.6 613.8L697.6 613.9L698.7 614.0L699.7 614.1L700.7 614.1L701.8 614.2L702.8 614.2L703.9 614.3L704.9 614.4L706.0 614.4L707.0 614.5L708.1 614.6L709.1 614.6L710.1 614.7L711.2 614.8L712.2 614.9L713.3 614.9L714.3 615.0L715.4 615.1L716.4 615.2L717.4 615.3L718.5 615.4L719.5 615.5L720.6 615.6L721.6 615.7L722.6 615.8L723.7 616.0L724.7 616.1L725.7 616.3L726.8 616.4L727.8 616.5L728.9 616.6L729.9 616.7L730.9 616.8L732.0 617.0L733.0 617.1L734.1 617.1L735.1 617.2L736.1 617.3L737.2 617.4L738.2 617.5L739.3 617.6L740.3 617.7L741.4 617.8L742.4 617.9L743.4 618.0L744.5 618.0L745.5 618.1L746.6 618.2L747.6 618.3L748.7 618.3L749.7 618.4L750.8 618.5L751.8 618.6L752.8 618.6L753.9 618.7L754.9 618.8L756.0 618.8L757.0 618.9L758.1 619.0L759.1 619.0L760.1 619.1L761.2 619.1L762.2 619.2L763.3 619.3L764.3 619.3L765.4 619.4L766.4 619.4L767.5 619.5L768.5 619.5L769.6 619.6L770.6 619.6L771.6 619.7L772.7 619.7L773.7 619.8L774.8 619.8L775.8 619.9L776.9 619.9L777.9 620.0L779.0 620.0L780.0 620.1L781.0 620.1L782.1 620.2L783.1 620.2L784.2 620.2L785.2 620.3L786.3 620.3L787.3 620.4L788.4 620.4L789.4 620.4L790.5 620.5L791.5 620.5L792.5 620.6L793.6 620.6L794.6 620.6L795.7 620.7L796.7 620.7L797.8 620.7L798.8 620.8L799.9 620.8L800.9 620.8L802.0 620.9L803.0 620.9L804.0 620.9L805.1 621.0L806.1 621.0L807.2 621.0L808.2 621.1L809.3 621.1L810.3 621.1L811.4 621.1L812.4 621.2L813.5 621.2L814.5 621.2L815.6 621.2L816.6 621.3L817.6 621.3L818.7 621.3L819.7 621.3L820.8 621.3L821.8 621.4L822.9 621.4L823.9 621.4L825.0 621.4L826.0 621.4L827.1 621.4L828.1 621.5L829.1 621.5L830.2 621.5L831.2 621.5L832.3 621.5L833.3 621.5L834.4 621.6L835.4 621.6L836.5 621.6L837.5 621.6L838.6 621.6L839.6 621.6L840.7 621.7L841.7 621.7L842.7 621.7L843.8 621.7L844.8 621.7L845.9 621.7L846.9 621.8L848.0 621.8L849.0 621.8L850.1 621.8L851.1 621.8L852.2 621.8L853.2 621.9L854.3 621.9L855.3 621.9L856.3 621.9L857.4 621.9L858.4 621.9L859.5 621.9L860.5 622.0L861.6 622.0L862.6 622.0L863.7 622.0L864.7 622.0L865.8 622.0L866.8 622.0L867.9 622.1L868.9 622.1L869.9 622.1L871.0 622.1L872.0 622.1L873.1 622.1L874.1 622.1L875.2 622.2L876.2 622.2L877.3 622.2L878.3 622.2L879.4 622.2L880.4 622.2L881.4 622.2L882.5 622.2L883.5 622.2L884.6 622.2L885.6 622.3L886.7 622.3L887.7 622.3L888.8 622.3L889.8 622.3L890.9 622.3L891.9 622.3L893.0 622.3L894.0 622.3L895.0 622.3L896.1 622.3L897.1 622.4L898.2 622.4L899.2 622.4L900.3 622.4L901.3 622.4L902.4 622.4L903.4 622.4L904.5 622.4L905.5 622.4L906.6 622.4L907.6 622.4L908.6 622.4L909.7 622.4L910.7 622.4L911.8 622.5L912.8 622.5L913.9 622.5L914.9 622.5L916.0 622.5L917.0 622.5L918.1 622.5L919.1 622.5L920.2 622.5L921.2 622.5" stroke="#0000ff"/>
</g>
<path d="M89.0 564.5h8.5M89.0 506.2h17M89.0 448.0h8.5M89.0 389.7h17M89.0 331.4h8.5M89.0 273.1h17M89.0 214.8h8.5M89.0 156.6h17M89.0 98.3h8.5" stroke="#000" stroke-width="3.1" fill="none"/>
<g fill="none" stroke-width="3.7">
<path d="M712.7 96H746.2" stroke="#0000ff"/>
<path d="M712.7 128.5H746.2" stroke="#ff0000" stroke-dasharray="16.6 8.8"/>
<path d="M712.7 161.3H746.2" stroke="#000" stroke-dasharray="3 9.7 21.7 9.3"/>
</g>
<g font-family='"Liberation Serif", "Times New Roman", serif' fill="#000" stroke="#000" stroke-width="0.3" style="font-kerning:none">
<g font-size="35px" letter-spacing="0.75">
<text x="756" y="106.2">X2TM</text>
<text x="756" y="138.8">NVT-BC</text>
<text x="756" y="171.2">NVE</text>
</g>
<g font-size="36px">
<text x="89.0" y="657" text-anchor="middle">0</text>
<text x="172.2" y="657" text-anchor="middle">1</text>
<text x="255.4" y="657" text-anchor="middle">2</text>
<text x="338.7" y="657" text-anchor="middle">3</text>
<text x="421.9" y="657" text-anchor="middle">4</text>
<text x="505.1" y="657" text-anchor="middle">5</text>
<text x="588.3" y="657" text-anchor="middle">6</text>
<text x="671.5" y="657" text-anchor="middle">7</text>
<text x="754.8" y="657" text-anchor="middle">8</text>
<text x="838.0" y="657" text-anchor="middle">9</text>
<text x="921.2" y="657" text-anchor="middle">10</text>
<text x="80" y="635.6" text-anchor="end">0</text>
<text x="80" y="519.0" text-anchor="end">10</text>
<text x="80" y="402.5" text-anchor="end">20</text>
<text x="80" y="285.9" text-anchor="end">30</text>
<text x="80" y="169.4" text-anchor="end">40</text>
<text x="80" y="52.8" text-anchor="end">50</text>
<text x="931" y="545.3">2</text>
<text x="931" y="455.7">4</text>
<text x="931" y="366.0">6</text>
<text x="931" y="276.4">8</text>
<text x="931" y="186.7">10</text>
<text x="931" y="97.0">12</text>
</g>
<g font-size="40px">
<text x="506" y="693" text-anchor="middle" font-size="40.4px">Time (ps)</text>
<text transform="translate(28 670) rotate(-90)" font-size="40.15px">Kinetic Energy of Energetic Atoms (keV)</text>
<text transform="translate(1017.5 606.3) rotate(-90)" font-size="40.4px">Number of Energetic Atoms (10<tspan font-size="28px" dy="-24.5">3</tspan><tspan dy="24.5">)</tspan></text>
</g></g>
</svg>
</body></html>
